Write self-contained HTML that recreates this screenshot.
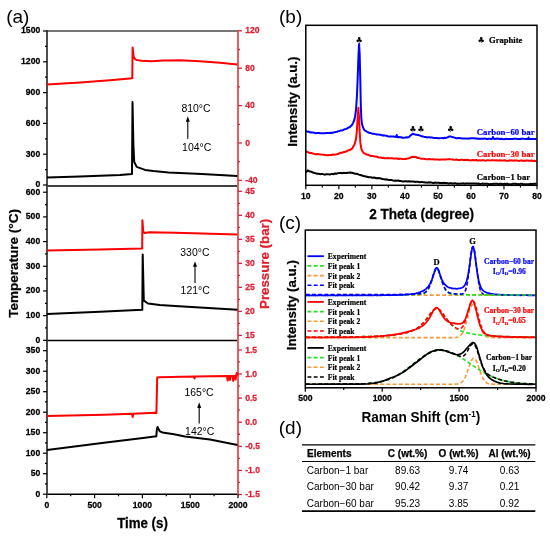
<!DOCTYPE html>
<html><head><meta charset="utf-8"><title>Figure</title>
<style>html,body{margin:0;padding:0;background:#fff;}body{width:550px;height:538px;overflow:hidden;}svg{display:block;}</style>
</head><body>
<svg width="550" height="538" viewBox="0 0 550 538">
<rect width="550" height="538" fill="#fff"/>
<g id="pa">
<line x1="47" y1="31" x2="238" y2="31" stroke="#474747" stroke-width="1.7" />
<line x1="47" y1="186" x2="238" y2="186" stroke="#000" stroke-width="1.4" />
<line x1="47" y1="340.5" x2="238" y2="340.5" stroke="#000" stroke-width="1.4" />
<line x1="47" y1="494.3" x2="238" y2="494.3" stroke="#000" stroke-width="1.5" />
<line x1="47" y1="30.2" x2="47" y2="495" stroke="#3a3a3a" stroke-width="1.8" />
<line x1="238" y1="30.2" x2="238" y2="495.2" stroke="#e65558" stroke-width="1.9" />
<line x1="43" y1="185" x2="47" y2="185" stroke="#000" stroke-width="1.2" />
<text transform="translate(40.2,187.45) scale(1.0,1.06)" font-family="'Liberation Sans', Arial, sans-serif" font-size="8.6" font-weight="bold" fill="#000" text-anchor="end"  stroke="#000" stroke-width="0.25">0</text>
<line x1="45" y1="169.6" x2="47" y2="169.6" stroke="#000" stroke-width="1.2" />
<line x1="43" y1="154.2" x2="47" y2="154.2" stroke="#000" stroke-width="1.2" />
<text transform="translate(40.2,156.65) scale(1.0,1.06)" font-family="'Liberation Sans', Arial, sans-serif" font-size="8.6" font-weight="bold" fill="#000" text-anchor="end"  stroke="#000" stroke-width="0.25">300</text>
<line x1="45" y1="138.8" x2="47" y2="138.8" stroke="#000" stroke-width="1.2" />
<line x1="43" y1="123.4" x2="47" y2="123.4" stroke="#000" stroke-width="1.2" />
<text transform="translate(40.2,125.85) scale(1.0,1.06)" font-family="'Liberation Sans', Arial, sans-serif" font-size="8.6" font-weight="bold" fill="#000" text-anchor="end"  stroke="#000" stroke-width="0.25">600</text>
<line x1="45" y1="108" x2="47" y2="108" stroke="#000" stroke-width="1.2" />
<line x1="43" y1="92.6" x2="47" y2="92.6" stroke="#000" stroke-width="1.2" />
<text transform="translate(40.2,95.05) scale(1.0,1.06)" font-family="'Liberation Sans', Arial, sans-serif" font-size="8.6" font-weight="bold" fill="#000" text-anchor="end"  stroke="#000" stroke-width="0.25">900</text>
<line x1="45" y1="77.2" x2="47" y2="77.2" stroke="#000" stroke-width="1.2" />
<line x1="43" y1="61.8" x2="47" y2="61.8" stroke="#000" stroke-width="1.2" />
<text transform="translate(40.2,64.25) scale(1.0,1.06)" font-family="'Liberation Sans', Arial, sans-serif" font-size="8.6" font-weight="bold" fill="#000" text-anchor="end"  stroke="#000" stroke-width="0.25">1200</text>
<line x1="45" y1="46.4" x2="47" y2="46.4" stroke="#000" stroke-width="1.2" />
<line x1="43" y1="31" x2="47" y2="31" stroke="#000" stroke-width="1.2" />
<text transform="translate(40.2,33.45) scale(1.0,1.06)" font-family="'Liberation Sans', Arial, sans-serif" font-size="8.6" font-weight="bold" fill="#000" text-anchor="end"  stroke="#000" stroke-width="0.25">1500</text>
<line x1="43" y1="340.3" x2="47" y2="340.3" stroke="#000" stroke-width="1.2" />
<text transform="translate(40.2,342.75) scale(1.0,1.06)" font-family="'Liberation Sans', Arial, sans-serif" font-size="8.6" font-weight="bold" fill="#000" text-anchor="end"  stroke="#000" stroke-width="0.25">0</text>
<line x1="45" y1="327.96" x2="47" y2="327.96" stroke="#000" stroke-width="1.2" />
<line x1="43" y1="315.62" x2="47" y2="315.62" stroke="#000" stroke-width="1.2" />
<text transform="translate(40.2,318.07) scale(1.0,1.06)" font-family="'Liberation Sans', Arial, sans-serif" font-size="8.6" font-weight="bold" fill="#000" text-anchor="end"  stroke="#000" stroke-width="0.25">100</text>
<line x1="45" y1="303.28" x2="47" y2="303.28" stroke="#000" stroke-width="1.2" />
<line x1="43" y1="290.94" x2="47" y2="290.94" stroke="#000" stroke-width="1.2" />
<text transform="translate(40.2,293.39) scale(1.0,1.06)" font-family="'Liberation Sans', Arial, sans-serif" font-size="8.6" font-weight="bold" fill="#000" text-anchor="end"  stroke="#000" stroke-width="0.25">200</text>
<line x1="45" y1="278.6" x2="47" y2="278.6" stroke="#000" stroke-width="1.2" />
<line x1="43" y1="266.26" x2="47" y2="266.26" stroke="#000" stroke-width="1.2" />
<text transform="translate(40.2,268.71) scale(1.0,1.06)" font-family="'Liberation Sans', Arial, sans-serif" font-size="8.6" font-weight="bold" fill="#000" text-anchor="end"  stroke="#000" stroke-width="0.25">300</text>
<line x1="45" y1="253.92" x2="47" y2="253.92" stroke="#000" stroke-width="1.2" />
<line x1="43" y1="241.58" x2="47" y2="241.58" stroke="#000" stroke-width="1.2" />
<text transform="translate(40.2,244.03) scale(1.0,1.06)" font-family="'Liberation Sans', Arial, sans-serif" font-size="8.6" font-weight="bold" fill="#000" text-anchor="end"  stroke="#000" stroke-width="0.25">400</text>
<line x1="45" y1="229.24" x2="47" y2="229.24" stroke="#000" stroke-width="1.2" />
<line x1="43" y1="216.9" x2="47" y2="216.9" stroke="#000" stroke-width="1.2" />
<text transform="translate(40.2,219.35) scale(1.0,1.06)" font-family="'Liberation Sans', Arial, sans-serif" font-size="8.6" font-weight="bold" fill="#000" text-anchor="end"  stroke="#000" stroke-width="0.25">500</text>
<line x1="45" y1="204.56" x2="47" y2="204.56" stroke="#000" stroke-width="1.2" />
<line x1="43" y1="192.22" x2="47" y2="192.22" stroke="#000" stroke-width="1.2" />
<text transform="translate(40.2,194.67) scale(1.0,1.06)" font-family="'Liberation Sans', Arial, sans-serif" font-size="8.6" font-weight="bold" fill="#000" text-anchor="end"  stroke="#000" stroke-width="0.25">600</text>
<line x1="43" y1="494.2" x2="47" y2="494.2" stroke="#000" stroke-width="1.2" />
<text transform="translate(40.2,496.65) scale(1.0,1.06)" font-family="'Liberation Sans', Arial, sans-serif" font-size="8.6" font-weight="bold" fill="#000" text-anchor="end"  stroke="#000" stroke-width="0.25">0</text>
<line x1="45" y1="483.95" x2="47" y2="483.95" stroke="#000" stroke-width="1.2" />
<line x1="43" y1="473.7" x2="47" y2="473.7" stroke="#000" stroke-width="1.2" />
<text transform="translate(40.2,476.15) scale(1.0,1.06)" font-family="'Liberation Sans', Arial, sans-serif" font-size="8.6" font-weight="bold" fill="#000" text-anchor="end"  stroke="#000" stroke-width="0.25">50</text>
<line x1="45" y1="463.45" x2="47" y2="463.45" stroke="#000" stroke-width="1.2" />
<line x1="43" y1="453.2" x2="47" y2="453.2" stroke="#000" stroke-width="1.2" />
<text transform="translate(40.2,455.65) scale(1.0,1.06)" font-family="'Liberation Sans', Arial, sans-serif" font-size="8.6" font-weight="bold" fill="#000" text-anchor="end"  stroke="#000" stroke-width="0.25">100</text>
<line x1="45" y1="442.95" x2="47" y2="442.95" stroke="#000" stroke-width="1.2" />
<line x1="43" y1="432.7" x2="47" y2="432.7" stroke="#000" stroke-width="1.2" />
<text transform="translate(40.2,435.15) scale(1.0,1.06)" font-family="'Liberation Sans', Arial, sans-serif" font-size="8.6" font-weight="bold" fill="#000" text-anchor="end"  stroke="#000" stroke-width="0.25">150</text>
<line x1="45" y1="422.45" x2="47" y2="422.45" stroke="#000" stroke-width="1.2" />
<line x1="43" y1="412.2" x2="47" y2="412.2" stroke="#000" stroke-width="1.2" />
<text transform="translate(40.2,414.65) scale(1.0,1.06)" font-family="'Liberation Sans', Arial, sans-serif" font-size="8.6" font-weight="bold" fill="#000" text-anchor="end"  stroke="#000" stroke-width="0.25">200</text>
<line x1="45" y1="401.95" x2="47" y2="401.95" stroke="#000" stroke-width="1.2" />
<line x1="43" y1="391.7" x2="47" y2="391.7" stroke="#000" stroke-width="1.2" />
<text transform="translate(40.2,394.15) scale(1.0,1.06)" font-family="'Liberation Sans', Arial, sans-serif" font-size="8.6" font-weight="bold" fill="#000" text-anchor="end"  stroke="#000" stroke-width="0.25">250</text>
<line x1="45" y1="381.45" x2="47" y2="381.45" stroke="#000" stroke-width="1.2" />
<line x1="43" y1="371.2" x2="47" y2="371.2" stroke="#000" stroke-width="1.2" />
<text transform="translate(40.2,373.65) scale(1.0,1.06)" font-family="'Liberation Sans', Arial, sans-serif" font-size="8.6" font-weight="bold" fill="#000" text-anchor="end"  stroke="#000" stroke-width="0.25">300</text>
<line x1="45" y1="360.95" x2="47" y2="360.95" stroke="#000" stroke-width="1.2" />
<line x1="43" y1="350.7" x2="47" y2="350.7" stroke="#000" stroke-width="1.2" />
<text transform="translate(40.2,353.15) scale(1.0,1.06)" font-family="'Liberation Sans', Arial, sans-serif" font-size="8.6" font-weight="bold" fill="#000" text-anchor="end"  stroke="#000" stroke-width="0.25">350</text>
<line x1="238" y1="180.4" x2="242" y2="180.4" stroke="#e0203a" stroke-width="1.3" />
<text transform="translate(245.2,183.05) scale(1.0,1.06)" font-family="'Liberation Sans', Arial, sans-serif" font-size="8.6" font-weight="bold" fill="#e01e32" text-anchor="start"  stroke="#e01e32" stroke-width="0.25">-40</text>
<line x1="238" y1="161.7" x2="240" y2="161.7" stroke="#e0203a" stroke-width="1.3" />
<line x1="238" y1="143" x2="242" y2="143" stroke="#e0203a" stroke-width="1.3" />
<text transform="translate(245.2,145.65) scale(1.0,1.06)" font-family="'Liberation Sans', Arial, sans-serif" font-size="8.6" font-weight="bold" fill="#e01e32" text-anchor="start"  stroke="#e01e32" stroke-width="0.25">0</text>
<line x1="238" y1="124.3" x2="240" y2="124.3" stroke="#e0203a" stroke-width="1.3" />
<line x1="238" y1="105.6" x2="242" y2="105.6" stroke="#e0203a" stroke-width="1.3" />
<text transform="translate(245.2,108.25) scale(1.0,1.06)" font-family="'Liberation Sans', Arial, sans-serif" font-size="8.6" font-weight="bold" fill="#e01e32" text-anchor="start"  stroke="#e01e32" stroke-width="0.25">40</text>
<line x1="238" y1="86.9" x2="240" y2="86.9" stroke="#e0203a" stroke-width="1.3" />
<line x1="238" y1="68.2" x2="242" y2="68.2" stroke="#e0203a" stroke-width="1.3" />
<text transform="translate(245.2,70.85) scale(1.0,1.06)" font-family="'Liberation Sans', Arial, sans-serif" font-size="8.6" font-weight="bold" fill="#e01e32" text-anchor="start"  stroke="#e01e32" stroke-width="0.25">80</text>
<line x1="238" y1="49.5" x2="240" y2="49.5" stroke="#e0203a" stroke-width="1.3" />
<line x1="238" y1="30.8" x2="242" y2="30.8" stroke="#e0203a" stroke-width="1.3" />
<text transform="translate(245.2,33.45) scale(1.0,1.06)" font-family="'Liberation Sans', Arial, sans-serif" font-size="8.6" font-weight="bold" fill="#e01e32" text-anchor="start"  stroke="#e01e32" stroke-width="0.25">120</text>
<line x1="238" y1="335.4" x2="242" y2="335.4" stroke="#e0203a" stroke-width="1.3" />
<text transform="translate(245.2,338.05) scale(1.0,1.06)" font-family="'Liberation Sans', Arial, sans-serif" font-size="8.6" font-weight="bold" fill="#e01e32" text-anchor="start"  stroke="#e01e32" stroke-width="0.25">15</text>
<line x1="238" y1="323.39" x2="240" y2="323.39" stroke="#e0203a" stroke-width="1.3" />
<line x1="238" y1="311.38" x2="242" y2="311.38" stroke="#e0203a" stroke-width="1.3" />
<text transform="translate(245.2,314.03) scale(1.0,1.06)" font-family="'Liberation Sans', Arial, sans-serif" font-size="8.6" font-weight="bold" fill="#e01e32" text-anchor="start"  stroke="#e01e32" stroke-width="0.25">20</text>
<line x1="238" y1="299.38" x2="240" y2="299.38" stroke="#e0203a" stroke-width="1.3" />
<line x1="238" y1="287.37" x2="242" y2="287.37" stroke="#e0203a" stroke-width="1.3" />
<text transform="translate(245.2,290.02) scale(1.0,1.06)" font-family="'Liberation Sans', Arial, sans-serif" font-size="8.6" font-weight="bold" fill="#e01e32" text-anchor="start"  stroke="#e01e32" stroke-width="0.25">25</text>
<line x1="238" y1="275.36" x2="240" y2="275.36" stroke="#e0203a" stroke-width="1.3" />
<line x1="238" y1="263.35" x2="242" y2="263.35" stroke="#e0203a" stroke-width="1.3" />
<text transform="translate(245.2,266) scale(1.0,1.06)" font-family="'Liberation Sans', Arial, sans-serif" font-size="8.6" font-weight="bold" fill="#e01e32" text-anchor="start"  stroke="#e01e32" stroke-width="0.25">30</text>
<line x1="238" y1="251.35" x2="240" y2="251.35" stroke="#e0203a" stroke-width="1.3" />
<line x1="238" y1="239.34" x2="242" y2="239.34" stroke="#e0203a" stroke-width="1.3" />
<text transform="translate(245.2,241.99) scale(1.0,1.06)" font-family="'Liberation Sans', Arial, sans-serif" font-size="8.6" font-weight="bold" fill="#e01e32" text-anchor="start"  stroke="#e01e32" stroke-width="0.25">35</text>
<line x1="238" y1="227.33" x2="240" y2="227.33" stroke="#e0203a" stroke-width="1.3" />
<line x1="238" y1="215.32" x2="242" y2="215.32" stroke="#e0203a" stroke-width="1.3" />
<text transform="translate(245.2,217.97) scale(1.0,1.06)" font-family="'Liberation Sans', Arial, sans-serif" font-size="8.6" font-weight="bold" fill="#e01e32" text-anchor="start"  stroke="#e01e32" stroke-width="0.25">40</text>
<line x1="238" y1="203.32" x2="240" y2="203.32" stroke="#e0203a" stroke-width="1.3" />
<line x1="238" y1="191.31" x2="242" y2="191.31" stroke="#e0203a" stroke-width="1.3" />
<text transform="translate(245.2,193.96) scale(1.0,1.06)" font-family="'Liberation Sans', Arial, sans-serif" font-size="8.6" font-weight="bold" fill="#e01e32" text-anchor="start"  stroke="#e01e32" stroke-width="0.25">45</text>
<line x1="238" y1="494.5" x2="242" y2="494.5" stroke="#e0203a" stroke-width="1.3" />
<text transform="translate(245.2,497.15) scale(1.0,1.06)" font-family="'Liberation Sans', Arial, sans-serif" font-size="8.6" font-weight="bold" fill="#e01e32" text-anchor="start"  stroke="#e01e32" stroke-width="0.25">-1.5</text>
<line x1="238" y1="482.45" x2="240" y2="482.45" stroke="#e0203a" stroke-width="1.3" />
<line x1="238" y1="470.4" x2="242" y2="470.4" stroke="#e0203a" stroke-width="1.3" />
<text transform="translate(245.2,473.05) scale(1.0,1.06)" font-family="'Liberation Sans', Arial, sans-serif" font-size="8.6" font-weight="bold" fill="#e01e32" text-anchor="start"  stroke="#e01e32" stroke-width="0.25">-1.0</text>
<line x1="238" y1="458.35" x2="240" y2="458.35" stroke="#e0203a" stroke-width="1.3" />
<line x1="238" y1="446.3" x2="242" y2="446.3" stroke="#e0203a" stroke-width="1.3" />
<text transform="translate(245.2,448.95) scale(1.0,1.06)" font-family="'Liberation Sans', Arial, sans-serif" font-size="8.6" font-weight="bold" fill="#e01e32" text-anchor="start"  stroke="#e01e32" stroke-width="0.25">-0.5</text>
<line x1="238" y1="434.25" x2="240" y2="434.25" stroke="#e0203a" stroke-width="1.3" />
<line x1="238" y1="422.2" x2="242" y2="422.2" stroke="#e0203a" stroke-width="1.3" />
<text transform="translate(245.2,424.85) scale(1.0,1.06)" font-family="'Liberation Sans', Arial, sans-serif" font-size="8.6" font-weight="bold" fill="#e01e32" text-anchor="start"  stroke="#e01e32" stroke-width="0.25">0.0</text>
<line x1="238" y1="410.15" x2="240" y2="410.15" stroke="#e0203a" stroke-width="1.3" />
<line x1="238" y1="398.1" x2="242" y2="398.1" stroke="#e0203a" stroke-width="1.3" />
<text transform="translate(245.2,400.75) scale(1.0,1.06)" font-family="'Liberation Sans', Arial, sans-serif" font-size="8.6" font-weight="bold" fill="#e01e32" text-anchor="start"  stroke="#e01e32" stroke-width="0.25">0.5</text>
<line x1="238" y1="386.05" x2="240" y2="386.05" stroke="#e0203a" stroke-width="1.3" />
<line x1="238" y1="374" x2="242" y2="374" stroke="#e0203a" stroke-width="1.3" />
<text transform="translate(245.2,376.65) scale(1.0,1.06)" font-family="'Liberation Sans', Arial, sans-serif" font-size="8.6" font-weight="bold" fill="#e01e32" text-anchor="start"  stroke="#e01e32" stroke-width="0.25">1.0</text>
<line x1="238" y1="361.95" x2="240" y2="361.95" stroke="#e0203a" stroke-width="1.3" />
<line x1="238" y1="349.9" x2="242" y2="349.9" stroke="#e0203a" stroke-width="1.3" />
<text transform="translate(245.2,352.55) scale(1.0,1.06)" font-family="'Liberation Sans', Arial, sans-serif" font-size="8.6" font-weight="bold" fill="#e01e32" text-anchor="start"  stroke="#e01e32" stroke-width="0.25">1.5</text>
<line x1="46.8" y1="494.3" x2="46.8" y2="498.3" stroke="#000" stroke-width="1.2" />
<text transform="translate(46.8,508) scale(1.0,1.06)" font-family="'Liberation Sans', Arial, sans-serif" font-size="8.6" font-weight="bold" fill="#000" text-anchor="middle"  stroke="#000" stroke-width="0.25">0</text>
<line x1="70.7" y1="494.3" x2="70.7" y2="496.3" stroke="#000" stroke-width="1.2" />
<line x1="94.6" y1="494.3" x2="94.6" y2="498.3" stroke="#000" stroke-width="1.2" />
<text transform="translate(94.6,508) scale(1.0,1.06)" font-family="'Liberation Sans', Arial, sans-serif" font-size="8.6" font-weight="bold" fill="#000" text-anchor="middle"  stroke="#000" stroke-width="0.25">500</text>
<line x1="118.5" y1="494.3" x2="118.5" y2="496.3" stroke="#000" stroke-width="1.2" />
<line x1="142.4" y1="494.3" x2="142.4" y2="498.3" stroke="#000" stroke-width="1.2" />
<text transform="translate(142.4,508) scale(1.0,1.06)" font-family="'Liberation Sans', Arial, sans-serif" font-size="8.6" font-weight="bold" fill="#000" text-anchor="middle"  stroke="#000" stroke-width="0.25">1000</text>
<line x1="166.3" y1="494.3" x2="166.3" y2="496.3" stroke="#000" stroke-width="1.2" />
<line x1="190.2" y1="494.3" x2="190.2" y2="498.3" stroke="#000" stroke-width="1.2" />
<text transform="translate(190.2,508) scale(1.0,1.06)" font-family="'Liberation Sans', Arial, sans-serif" font-size="8.6" font-weight="bold" fill="#000" text-anchor="middle"  stroke="#000" stroke-width="0.25">1500</text>
<line x1="214.1" y1="494.3" x2="214.1" y2="496.3" stroke="#000" stroke-width="1.2" />
<line x1="238" y1="494.3" x2="238" y2="498.3" stroke="#000" stroke-width="1.2" />
<text transform="translate(238,508) scale(1.0,1.06)" font-family="'Liberation Sans', Arial, sans-serif" font-size="8.6" font-weight="bold" fill="#000" text-anchor="middle"  stroke="#000" stroke-width="0.25">2000</text>
<path d="M47,84.5 L80,82.4 L110,80.2 L132.3,78.3 L132.6,47.4 L133.6,56.4 L135,59 L136.4,60 L141.8,60.7 L151.6,61.3 L163.6,60.4 L180,60.2 L200,61.2 L220,62.8 L237.5,64.4" fill="none" stroke="#ff0000" stroke-width="2" stroke-linejoin="round" />
<path d="M47,177.5 L80,176.4 L120,174.9 L132,173.9 L132.5,102 L133.4,145 L134.2,161.9 L136.7,166.9 L145,169.9 L153.4,171.1 L168.5,172.4 L201.8,174 L237.4,176" fill="none" stroke="#000" stroke-width="2" stroke-linejoin="round" />
<path d="M47,250.5 L100,249.5 L142.2,248.6 L142.4,220.2 L143.3,232.2 L145,233 L149,232.3 L175,232.8 L237.5,234.5" fill="none" stroke="#ff0000" stroke-width="2" stroke-linejoin="round" />
<path d="M47,314 L100,311.8 L142.3,309.8 L142.7,254.5 L143.8,300.7 L148,303.5 L159.8,304.9 L175,305.9 L237.5,309.7" fill="none" stroke="#000" stroke-width="2" stroke-linejoin="round" />
<path d="M47,416.1 L104,414.7 L132,413.8 L132.7,417 L133.4,413.8 L155,412.7 L156.4,413 L157.2,377.5 L160,377.3 L194,376.6 L194.5,378.6 L195,376.6 L227,376 L227.7,380.5 L228.4,376 L229.5,376 L230,380 L230.6,376 L232.6,376 L233.2,381 L233.8,376 L235,376 L235.5,379.5 L236,376 L236.8,373 L237.5,375.7" fill="none" stroke="#ff0000" stroke-width="2" stroke-linejoin="round" />
<path d="M47,450 L104,442.7 L145,437.7 L156.3,436.3 L156.8,430 L157.5,427 L159.9,431.4 L162.5,432.5 L174,434.3 L185,436.5 L210,439.5 L237.5,445" fill="none" stroke="#000" stroke-width="2" stroke-linejoin="round" />
<text x="181.4" y="111.7" font-family="'Liberation Sans', Arial, sans-serif" font-size="10.45" font-weight="normal" fill="#000" text-anchor="start" >810°C</text>
<line x1="187.8" y1="138.7" x2="187.8" y2="120.2" stroke="#000" stroke-width="1.1" />
<path d="M187.8,116.2 L185.8,121.8 L189.8,121.8 Z" fill="#000"/>
<text x="182.1" y="150.8" font-family="'Liberation Sans', Arial, sans-serif" font-size="10.45" font-weight="normal" fill="#000" text-anchor="start" >104°C</text>
<text x="180.3" y="255.6" font-family="'Liberation Sans', Arial, sans-serif" font-size="10.45" font-weight="normal" fill="#000" text-anchor="start" >330°C</text>
<line x1="195" y1="282.9" x2="195" y2="265.2" stroke="#000" stroke-width="1.1" />
<path d="M195,261.2 L193,266.8 L197,266.8 Z" fill="#000"/>
<text x="180.6" y="294" font-family="'Liberation Sans', Arial, sans-serif" font-size="10.45" font-weight="normal" fill="#000" text-anchor="start" >121°C</text>
<text x="184.5" y="395.8" font-family="'Liberation Sans', Arial, sans-serif" font-size="10.45" font-weight="normal" fill="#000" text-anchor="start" >165°C</text>
<line x1="199.2" y1="423.5" x2="199.2" y2="406.3" stroke="#000" stroke-width="1.1" />
<path d="M199.2,402.3 L197.2,407.9 L201.2,407.9 Z" fill="#000"/>
<text x="185.1" y="434.6" font-family="'Liberation Sans', Arial, sans-serif" font-size="10.45" font-weight="normal" fill="#000" text-anchor="start" >142°C</text>
<text transform="translate(18.3,263.4) rotate(-90) scale(1.018,0.97)" font-family="'Liberation Sans', Arial, sans-serif" font-size="13.3" font-weight="bold" fill="#000" text-anchor="middle"  stroke="#000" stroke-width="0.25">Temperature (°C)</text>
<text transform="translate(268.9,263.9) rotate(-90) scale(1.0,0.99)" font-family="'Liberation Sans', Arial, sans-serif" font-size="13.3" font-weight="bold" fill="#e3202c" text-anchor="middle"  stroke="#e3202c" stroke-width="0.25">Pressure (bar)</text>
<text transform="translate(142.5,527.9) scale(1.0,1.06)" font-family="'Liberation Sans', Arial, sans-serif" font-size="13.3" font-weight="bold" fill="#000" text-anchor="middle"  stroke="#000" stroke-width="0.25">Time (s)</text>
<text x="6.2" y="22.9" font-family="'Liberation Sans', Arial, sans-serif" font-size="19" font-weight="normal" fill="#000" text-anchor="start" >(a)</text>
</g>
<g id="pb">
<path d="M306,172.39 L307.7,170.29 L310,171.59 L311.48,171.77 L312.95,172.57 L314.42,172.99 L315.9,173.33 L317.27,173.8 L318.63,173.72 L320,174.16 L321.25,174.02 L322.5,174.1 L323.75,174.38 L325,174.7 L326.22,174.19 L327.43,174.17 L328.65,174.33 L329.87,174.44 L331.08,174.13 L332.3,173.94 L333.58,174.15 L334.87,173.46 L336.15,173.82 L337.43,173.34 L338.72,173.12 L340,172.97 L341.23,173.01 L342.46,173.25 L343.69,172.79 L344.91,172.96 L346.14,172.93 L347.37,172.69 L348.6,172.73 L350.07,172.6 L351.53,172.77 L353,173.02 L354.57,173.64 L356.13,173.82 L357.7,174.09 L358.92,174.62 L360.13,174.91 L361.35,175.18 L362.57,175.84 L363.78,176.15 L365,176.25 L366.2,176.64 L367.4,176.82 L368.6,177.23 L369.8,177.34 L371,177.27 L372.34,177.85 L373.68,177.49 L375.02,177.83 L376.36,178.19 L377.7,177.99 L378.96,178.37 L380.22,178.28 L381.48,178.84 L382.74,179.08 L384,179.14 L385.3,179.51 L386.6,179.35 L387.9,179.76 L389.2,179.88 L390.5,180.05 L391.8,180.11 L393.1,180.48 L394.4,180.69 L395.7,180.54 L397,180.8 L398.33,180.54 L399.67,181.02 L401,181.09 L402.33,181.4 L403.67,181.39 L405,181.17 L406.25,181.29 L407.5,181.53 L408.75,181.2 L410,181.53 L411.25,181.41 L412.5,181.45 L413.75,181.47 L415,181.96 L416.3,181.64 L417.6,181.77 L418.9,181.92 L420.2,182.27 L421.5,181.86 L422.8,182.14 L424.1,182.27 L425.4,182.53 L426.62,182.55 L427.83,182.64 L429.05,182.34 L430.27,182.48 L431.48,182.51 L432.7,182.88 L433.92,182.98 L435.13,182.56 L436.35,182.63 L437.57,182.72 L438.78,182.78 L440,182.99 L441.24,183.09 L442.48,182.92 L443.73,182.8 L444.97,183.08 L446.21,183.08 L447.45,183.23 L448.69,183.49 L449.94,183.37 L451.18,183.29 L452.42,183.39 L453.66,183.45 L454.91,183.11 L456.15,183.65 L457.39,183.61 L458.63,183.7 L459.87,183.68 L461.12,183.47 L462.36,183.51 L463.6,183.36 L464.86,183.69 L466.11,183.37 L467.37,183.38 L468.63,183.48 L469.89,183.47 L471.14,183.59 L472.4,183.43 L473.66,183.41 L474.91,183.52 L476.17,183.5 L477.43,183.68 L478.69,183.49 L479.94,184.01 L481.2,183.87 L482.46,183.6 L483.71,183.68 L484.97,183.75 L486.23,183.78 L487.49,183.65 L488.74,184.1 L490,184.2 L491.22,183.88 L492.45,183.9 L493.67,183.66 L494.89,183.67 L496.12,183.82 L497.34,183.77 L498.57,184.12 L499.79,183.72 L501.01,183.64 L502.24,184.2 L503.46,183.95 L504.68,183.72 L505.91,183.96 L507.13,183.65 L508.36,183.96 L509.58,184.23 L510.8,184.16 L512.03,184.07 L513.25,183.81 L514.47,183.87 L515.7,183.76 L516.92,184.12 L518.14,183.98 L519.37,184.13 L520.59,183.86 L521.82,183.8 L523.04,184.16 L524.26,184.26 L525.49,184.19 L526.71,184.16 L527.93,184.17 L529.16,184.13 L530.38,183.82 L531.61,184 L532.83,183.91 L534.05,183.71 L535.28,183.71 L536.5,184" fill="none" stroke="#000" stroke-width="2" stroke-linejoin="round" />
<path d="M306,151.57 L307.33,151.92 L308.67,152.55 L310,153.07 L311.43,153.04 L312.87,153.6 L314.3,153.89 L315.87,154.14 L317.43,154.05 L319,154.23 L320.53,154.44 L322.07,154.62 L323.6,154.82 L325.07,155.07 L326.53,155.24 L328,155.2 L329.23,154.94 L330.45,154.99 L331.67,155.03 L332.9,154.55 L334.27,154.63 L335.63,154.51 L337,154.17 L338.3,153.8 L339.6,153.29 L340.9,152.76 L342.2,152.77 L343.47,152.07 L344.73,151.91 L346,151.58 L347.2,150.77 L348.4,150.31 L349.6,150.17 L352,148.63 L353.3,146.4 L354.3,145 L355,142.9 L356,139 L356.8,132 L357.5,120 L358.4,107.8 L359.1,118 L359.7,132 L360.4,142.9 L361.2,148 L362,150.58 L363.2,152.49 L365.5,154.04 L367,154.68 L368.3,154.69 L369.6,155.5 L370.9,155.99 L372.12,156.05 L373.34,156.13 L374.56,156.51 L375.78,156.52 L377,156.71 L378.3,157.45 L379.6,157.42 L380.9,157.52 L382.2,157.93 L383.5,157.79 L384.8,158.22 L386.24,158.3 L387.68,158.03 L389.12,158.15 L390.56,158.28 L392,158.34 L393.33,158.6 L394.67,158.46 L396,158.6 L397.33,158.48 L398.67,159 L400,158.71 L401.25,158.8 L402.5,158.9 L403.75,159.12 L405,158.85 L406.33,158.92 L407.67,158.43 L409,158.22 L410.23,157.78 L411.47,157.04 L412.7,156.86 L414.35,156.96 L416,157.1 L417.33,157.91 L418.67,157.87 L420,158.38 L421.25,158.71 L422.5,158.78 L423.75,158.82 L425,159.11 L426.33,159.18 L427.67,159.37 L429,159.01 L430.33,159.34 L431.67,159.2 L433,159.27 L434.33,159.58 L435.67,159.44 L437,159.49 L438.33,159.62 L439.67,159.73 L441,159.47 L442.2,159.55 L443.4,159.46 L444.6,159.45 L445.8,159.54 L447,159.37 L448.3,159.32 L449.6,159.19 L450.9,159.36 L452.27,159.39 L453.63,159.66 L455,159.87 L456.23,159.51 L457.46,159.75 L458.69,160.04 L459.91,160.03 L461.14,159.67 L462.37,159.72 L463.6,159.97 L464.86,159.77 L466.12,159.89 L467.38,159.81 L468.65,160.19 L469.91,160.29 L471.17,160.38 L472.43,159.95 L473.69,160.31 L474.95,160.3 L476.22,160.02 L477.48,160.48 L478.74,160.56 L480,160.13 L481.25,160.58 L482.5,160.26 L483.75,160.33 L485,160.64 L486.25,160.56 L487.5,160.17 L488.75,160.35 L490,160.41 L491.25,160.32 L492.5,160.24 L493.75,160.33 L495,160.58 L496.25,160.17 L497.5,160.51 L498.75,160.45 L500,160.21 L501.22,160.41 L502.43,160.59 L503.65,160.54 L504.87,160.28 L506.08,160.84 L507.3,160.73 L508.52,160.85 L509.73,160.34 L510.95,160.45 L512.17,160.32 L513.38,160.78 L514.6,160.48 L515.82,160.41 L517.03,160.59 L518.25,160.9 L519.47,160.85 L520.68,160.53 L521.9,160.47 L523.12,160.94 L524.33,160.74 L525.55,160.83 L526.77,160.47 L527.98,160.46 L529.2,160.85 L530.42,160.71 L531.63,160.5 L532.85,161.03 L534.07,160.86 L535.28,160.97 L536.5,160.8" fill="none" stroke="#ff0000" stroke-width="2" stroke-linejoin="round" />
<path d="M306,130.95 L307.33,131.75 L308.67,131.61 L310,132.42 L311.43,132.37 L312.87,132.5 L314.3,132.83 L315.87,133.19 L317.43,132.93 L319,132.98 L320.53,133.28 L322.07,133.18 L323.6,133.17 L325.07,133.13 L326.53,133 L328,133.02 L329.23,132.96 L330.45,132.83 L331.67,132.98 L332.9,132.57 L334.27,132.4 L335.63,131.91 L337,131.71 L338.3,131.14 L339.6,130.9 L340.9,130.38 L342.2,130.44 L343.47,129.86 L344.73,129.18 L346,128.88 L347.2,128.56 L348.4,127.46 L349.6,127.29 L352,124.96 L353.3,122.4 L354.3,120 L355,117 L356,110 L357,95 L357.8,75 L358.5,55 L359.1,44 L359.7,55 L360.3,80 L360.8,105 L361.3,118 L362,124 L363,127.5 L364.5,130.4 L365.75,130.94 L367,131.8 L368.3,132.38 L369.6,133.02 L370.9,133.11 L372.12,133.66 L373.34,133.84 L374.56,134.06 L375.78,134.18 L377,134.41 L378.3,134.43 L379.6,134.68 L380.9,134.84 L382.2,135.44 L383.5,135.35 L384.8,135.5 L386.24,135.63 L387.68,136.26 L389.12,136.46 L390.56,136.52 L392,136.47 L393.33,136.58 L394.67,136.74 L396,137 L396.7,135 L397.4,137.18 L398.67,137.06 L399.93,137.3 L401.2,137.26 L402.47,137.74 L403.73,137.82 L405,137.63 L406.33,137.25 L407.67,137.48 L409,136.89 L411,135.11 L412.7,133.7 L415,134.43 L416.5,134.73 L418,135 L420.4,135.62 L421.7,136.3 L423,136.5 L424.33,136.89 L425.67,137.02 L427,137.44 L428.2,137.29 L429.4,137.33 L430.6,137.56 L431.8,137.58 L433,137.85 L434.33,137.88 L435.67,138.08 L437,138.09 L438.33,138.2 L439.67,138.36 L441,138.13 L442.25,138 L443.5,138.29 L444.75,137.69 L446,137.93 L447.5,137.39 L449,136.53 L450.9,136.6 L453,137.24 L454.5,137.58 L456,138.14 L457.27,138.24 L458.53,137.88 L459.8,138.16 L461.07,138.2 L462.33,138.45 L463.6,138.48 L464.86,138.53 L466.12,138.41 L467.38,138.63 L468.65,138.53 L469.91,138.57 L471.17,138.32 L472.43,138.23 L473.69,138.33 L474.95,138.49 L476.22,138.37 L477.48,138.84 L478.74,138.7 L480,138.78 L481.23,138.79 L482.46,138.83 L483.69,138.72 L484.92,138.44 L486.15,138.93 L487.38,138.91 L488.61,138.77 L489.84,138.8 L491.07,138.89 L492.3,138.8 L492.9,137 L493.5,138.54 L494.8,138.96 L496.1,138.69 L497.4,138.6 L498.7,138.74 L500,139.04 L501.25,138.73 L502.5,139.06 L503.75,139.2 L505,138.92 L506.25,138.86 L507.5,138.92 L508.75,139.05 L510,139.11 L511.25,139.03 L512.5,139.05 L513.75,138.72 L515,138.76 L516.25,138.83 L517.5,139.13 L518.75,138.88 L520,139.04 L521.33,138.71 L522.67,138.74 L524,138.86 L525.33,139.1 L526.67,139.12 L528,139 L528.5,137.5 L529,139.11 L530.25,138.91 L531.5,139.08 L532.75,139.08 L534,139.11 L535.25,138.94 L536.5,139.2" fill="none" stroke="#0000ff" stroke-width="2" stroke-linejoin="round" />
<rect x="305.8" y="25.3" width="231.2" height="160" fill="none" stroke="#000" stroke-width="1.5"/>
<line x1="305.8" y1="185.3" x2="305.8" y2="189.3" stroke="#000" stroke-width="1.2" />
<text transform="translate(305.8,199.2) scale(1.0,1.06)" font-family="'Liberation Sans', Arial, sans-serif" font-size="8.6" font-weight="bold" fill="#000" text-anchor="middle"  stroke="#000" stroke-width="0.25">10</text>
<line x1="322.31" y1="185.3" x2="322.31" y2="187.5" stroke="#000" stroke-width="1.2" />
<line x1="338.83" y1="185.3" x2="338.83" y2="189.3" stroke="#000" stroke-width="1.2" />
<text transform="translate(338.83,199.2) scale(1.0,1.06)" font-family="'Liberation Sans', Arial, sans-serif" font-size="8.6" font-weight="bold" fill="#000" text-anchor="middle"  stroke="#000" stroke-width="0.25">20</text>
<line x1="355.34" y1="185.3" x2="355.34" y2="187.5" stroke="#000" stroke-width="1.2" />
<line x1="371.86" y1="185.3" x2="371.86" y2="189.3" stroke="#000" stroke-width="1.2" />
<text transform="translate(371.86,199.2) scale(1.0,1.06)" font-family="'Liberation Sans', Arial, sans-serif" font-size="8.6" font-weight="bold" fill="#000" text-anchor="middle"  stroke="#000" stroke-width="0.25">30</text>
<line x1="388.37" y1="185.3" x2="388.37" y2="187.5" stroke="#000" stroke-width="1.2" />
<line x1="404.89" y1="185.3" x2="404.89" y2="189.3" stroke="#000" stroke-width="1.2" />
<text transform="translate(404.89,199.2) scale(1.0,1.06)" font-family="'Liberation Sans', Arial, sans-serif" font-size="8.6" font-weight="bold" fill="#000" text-anchor="middle"  stroke="#000" stroke-width="0.25">40</text>
<line x1="421.4" y1="185.3" x2="421.4" y2="187.5" stroke="#000" stroke-width="1.2" />
<line x1="437.91" y1="185.3" x2="437.91" y2="189.3" stroke="#000" stroke-width="1.2" />
<text transform="translate(437.91,199.2) scale(1.0,1.06)" font-family="'Liberation Sans', Arial, sans-serif" font-size="8.6" font-weight="bold" fill="#000" text-anchor="middle"  stroke="#000" stroke-width="0.25">50</text>
<line x1="454.43" y1="185.3" x2="454.43" y2="187.5" stroke="#000" stroke-width="1.2" />
<line x1="470.94" y1="185.3" x2="470.94" y2="189.3" stroke="#000" stroke-width="1.2" />
<text transform="translate(470.94,199.2) scale(1.0,1.06)" font-family="'Liberation Sans', Arial, sans-serif" font-size="8.6" font-weight="bold" fill="#000" text-anchor="middle"  stroke="#000" stroke-width="0.25">60</text>
<line x1="487.46" y1="185.3" x2="487.46" y2="187.5" stroke="#000" stroke-width="1.2" />
<line x1="503.97" y1="185.3" x2="503.97" y2="189.3" stroke="#000" stroke-width="1.2" />
<text transform="translate(503.97,199.2) scale(1.0,1.06)" font-family="'Liberation Sans', Arial, sans-serif" font-size="8.6" font-weight="bold" fill="#000" text-anchor="middle"  stroke="#000" stroke-width="0.25">70</text>
<line x1="520.49" y1="185.3" x2="520.49" y2="187.5" stroke="#000" stroke-width="1.2" />
<line x1="537" y1="185.3" x2="537" y2="189.3" stroke="#000" stroke-width="1.2" />
<text transform="translate(537,199.2) scale(1.0,1.06)" font-family="'Liberation Sans', Arial, sans-serif" font-size="8.6" font-weight="bold" fill="#000" text-anchor="middle"  stroke="#000" stroke-width="0.25">80</text>
<text x="359.2" y="42.6" font-family="'DejaVu Sans', sans-serif" font-size="8.2" font-weight="normal" fill="#000" text-anchor="middle" >&#9827;</text>
<text x="413" y="132" font-family="'DejaVu Sans', sans-serif" font-size="8.2" font-weight="normal" fill="#000" text-anchor="middle" >&#9827;</text>
<text x="420.8" y="132" font-family="'DejaVu Sans', sans-serif" font-size="8.2" font-weight="normal" fill="#000" text-anchor="middle" >&#9827;</text>
<text x="450.6" y="132" font-family="'DejaVu Sans', sans-serif" font-size="8.2" font-weight="normal" fill="#000" text-anchor="middle" >&#9827;</text>
<text x="481.1" y="42.8" font-family="'DejaVu Sans', sans-serif" font-size="8.2" font-weight="normal" fill="#000" text-anchor="middle" >&#9827;</text>
<text x="489" y="43" font-family="'Liberation Serif', 'Times New Roman', serif" font-size="8.6" font-weight="bold" fill="#000" text-anchor="start"  stroke="#000" stroke-width="0.2">Graphite</text>
<text x="476.8" y="134.9" font-family="'Liberation Serif', 'Times New Roman', serif" font-size="8.75" font-weight="bold" fill="#0000ff" text-anchor="start"  stroke="#0000ff" stroke-width="0.2">Carbon&#8722;60 bar</text>
<text x="476.8" y="157.1" font-family="'Liberation Serif', 'Times New Roman', serif" font-size="8.75" font-weight="bold" fill="#ff0000" text-anchor="start"  stroke="#ff0000" stroke-width="0.2">Carbon&#8722;30 bar</text>
<text x="476.8" y="179.8" font-family="'Liberation Serif', 'Times New Roman', serif" font-size="8.75" font-weight="bold" fill="#000" text-anchor="start"  stroke="#000" stroke-width="0.2">Carbon&#8722;1 bar</text>
<text transform="translate(421.6,219.1) scale(1.0,1.06)" font-family="'Liberation Sans', Arial, sans-serif" font-size="13.6" font-weight="bold" fill="#000" text-anchor="middle"  stroke="#000" stroke-width="0.25">2 Theta (degree)</text>
<text transform="translate(296.9,101.6) rotate(-90) scale(1.0,0.95)" font-family="'Liberation Sans', Arial, sans-serif" font-size="13.3" font-weight="bold" fill="#000" text-anchor="middle"  stroke="#000" stroke-width="0.25">Intensity (a.u.)</text>
<text x="279" y="22.9" font-family="'Liberation Sans', Arial, sans-serif" font-size="19" font-weight="normal" fill="#000" text-anchor="start" >(b)</text>
</g>
<g id="pc">
<path d="M305.8,295.08 L306.3,295.08 L306.8,295.08 L307.3,295.08 L307.8,295.08 L308.3,295.08 L308.8,295.08 L309.3,295.08 L309.8,295.08 L310.3,295.08 L310.8,295.08 L311.3,295.08 L311.8,295.08 L312.3,295.08 L312.8,295.08 L313.3,295.08 L313.8,295.08 L314.3,295.08 L314.8,295.08 L315.3,295.08 L315.8,295.08 L316.3,295.08 L316.8,295.08 L317.3,295.08 L317.8,295.08 L318.3,295.08 L318.8,295.08 L319.3,295.08 L319.8,295.08 L320.3,295.08 L320.8,295.08 L321.3,295.08 L321.8,295.08 L322.3,295.08 L322.8,295.08 L323.3,295.08 L323.8,295.08 L324.3,295.08 L324.8,295.08 L325.3,295.08 L325.8,295.08 L326.3,295.08 L326.8,295.08 L327.3,295.08 L327.8,295.08 L328.3,295.08 L328.8,295.08 L329.3,295.08 L329.8,295.08 L330.3,295.08 L330.8,295.08 L331.3,295.08 L331.8,295.08 L332.3,295.08 L332.8,295.08 L333.3,295.07 L333.8,295.07 L334.3,295.07 L334.8,295.07 L335.3,295.07 L335.8,295.07 L336.3,295.07 L336.8,295.07 L337.3,295.07 L337.8,295.07 L338.3,295.07 L338.8,295.07 L339.3,295.07 L339.8,295.07 L340.3,295.07 L340.8,295.07 L341.3,295.07 L341.8,295.07 L342.3,295.07 L342.8,295.07 L343.3,295.07 L343.8,295.07 L344.3,295.07 L344.8,295.07 L345.3,295.07 L345.8,295.07 L346.3,295.07 L346.8,295.07 L347.3,295.07 L347.8,295.07 L348.3,295.07 L348.8,295.07 L349.3,295.06 L349.8,295.06 L350.3,295.06 L350.8,295.06 L351.3,295.06 L351.8,295.06 L352.3,295.06 L352.8,295.06 L353.3,295.06 L353.8,295.06 L354.3,295.06 L354.8,295.06 L355.3,295.06 L355.8,295.06 L356.3,295.06 L356.8,295.06 L357.3,295.06 L357.8,295.06 L358.3,295.06 L358.8,295.06 L359.3,295.06 L359.8,295.05 L360.3,295.05 L360.8,295.05 L361.3,295.05 L361.8,295.05 L362.3,295.05 L362.8,295.05 L363.3,295.05 L363.8,295.05 L364.3,295.05 L364.8,295.05 L365.3,295.05 L365.8,295.05 L366.3,295.05 L366.8,295.04 L367.3,295.04 L367.8,295.04 L368.3,295.04 L368.8,295.04 L369.3,295.04 L369.8,295.04 L370.3,295.04 L370.8,295.04 L371.3,295.04 L371.8,295.04 L372.3,295.04 L372.8,295.03 L373.3,295.03 L373.8,295.03 L374.3,295.03 L374.8,295.03 L375.3,295.03 L375.8,295.03 L376.3,295.03 L376.8,295.03 L377.3,295.02 L377.8,295.02 L378.3,295.02 L378.8,295.02 L379.3,295.02 L379.8,295.02 L380.3,295.02 L380.8,295.01 L381.3,295.01 L381.8,295.01 L382.3,295.01 L382.8,295.01 L383.3,295.01 L383.8,295 L384.3,295 L384.8,295 L385.3,295 L385.8,295 L386.3,294.99 L386.8,294.99 L387.3,294.99 L387.8,294.99 L388.3,294.99 L388.8,294.98 L389.3,294.98 L389.8,294.98 L390.3,294.98 L390.8,294.97 L391.3,294.97 L391.8,294.97 L392.3,294.96 L392.8,294.96 L393.3,294.96 L393.8,294.96 L394.3,294.95 L394.8,294.95 L395.3,294.94 L395.8,294.94 L396.3,294.94 L396.8,294.93 L397.3,294.93 L397.8,294.92 L398.3,294.92 L398.8,294.92 L399.3,294.91 L399.8,294.91 L400.3,294.9 L400.8,294.89 L401.3,294.89 L401.8,294.88 L402.3,294.88 L402.8,294.87 L403.3,294.86 L403.8,294.86 L404.3,294.85 L404.8,294.84 L405.3,294.83 L405.8,294.83 L406.3,294.82 L406.8,294.81 L407.3,294.8 L407.8,294.79 L408.3,294.78 L408.8,294.77 L409.3,294.75 L409.8,294.74 L410.3,294.73 L410.8,294.71 L411.3,294.7 L411.8,294.68 L412.3,294.67 L412.8,294.65 L413.3,294.63 L413.8,294.61 L414.3,294.59 L414.8,294.57 L415.3,294.54 L415.8,294.52 L416.3,294.49 L416.8,294.46 L417.3,294.43 L417.8,294.4 L418.3,294.36 L418.8,294.32 L419.3,294.27 L419.8,294.22 L420.3,294.16 L420.8,294.1 L421.3,294.02 L421.8,293.94 L422.3,293.83 L422.8,293.71 L423.3,293.56 L423.8,293.39 L424.3,293.18 L424.8,292.92 L425.3,292.62 L425.8,292.25 L426.3,291.81 L426.8,291.3 L427.3,290.69 L427.8,289.98 L428.3,289.17 L428.8,288.24 L429.3,287.19 L429.8,286.02 L430.3,284.74 L430.8,283.34 L431.3,281.85 L431.8,280.28 L432.3,278.65 L432.8,277.01 L433.3,275.37 L433.8,273.8 L434.3,272.33 L434.8,271.04 L435.3,269.97 L435.8,269.18 L436.3,268.72 L436.8,268.61 L437.3,268.86 L437.8,269.46 L438.3,270.37 L438.8,271.53 L439.3,272.9 L439.8,274.42 L440.3,276.02 L440.8,277.67 L441.3,279.31 L441.8,280.92 L442.3,282.46 L442.8,283.91 L443.3,285.26 L443.8,286.5 L444.3,287.62 L444.8,288.62 L445.3,289.51 L445.8,290.28 L446.3,290.94 L446.8,291.51 L447.3,292 L447.8,292.4 L448.3,292.74 L448.8,293.03 L449.3,293.27 L449.8,293.46 L450.3,293.62 L450.8,293.76 L451.3,293.88 L451.8,293.97 L452.3,294.05 L452.8,294.13 L453.3,294.19 L453.8,294.24 L454.3,294.29 L454.8,294.33 L455.3,294.37 L455.8,294.41 L456.3,294.44 L456.8,294.47 L457.3,294.5 L457.8,294.53 L458.3,294.55 L458.8,294.58 L459.3,294.6 L459.8,294.62 L460.3,294.64 L460.8,294.66 L461.3,294.67 L461.8,294.69 L462.3,294.7 L462.8,294.72 L463.3,294.73 L463.8,294.75 L464.3,294.76 L464.8,294.77 L465.3,294.78 L465.8,294.79 L466.3,294.8 L466.8,294.81 L467.3,294.82 L467.8,294.83 L468.3,294.84 L468.8,294.84 L469.3,294.85 L469.8,294.86 L470.3,294.87 L470.8,294.87 L471.3,294.88 L471.8,294.89 L472.3,294.89 L472.8,294.9 L473.3,294.9 L473.8,294.91 L474.3,294.91 L474.8,294.92 L475.3,294.92 L475.8,294.93 L476.3,294.93 L476.8,294.93 L477.3,294.94 L477.8,294.94 L478.3,294.95 L478.8,294.95 L479.3,294.95 L479.8,294.96 L480.3,294.96 L480.8,294.96 L481.3,294.97 L481.8,294.97 L482.3,294.97 L482.8,294.97 L483.3,294.98 L483.8,294.98 L484.3,294.98 L484.8,294.98 L485.3,294.99 L485.8,294.99 L486.3,294.99 L486.8,294.99 L487.3,295 L487.8,295 L488.3,295 L488.8,295 L489.3,295 L489.8,295.01 L490.3,295.01 L490.8,295.01 L491.3,295.01 L491.8,295.01 L492.3,295.01 L492.8,295.01 L493.3,295.02 L493.8,295.02 L494.3,295.02 L494.8,295.02 L495.3,295.02 L495.8,295.02 L496.3,295.02 L496.8,295.03 L497.3,295.03 L497.8,295.03 L498.3,295.03 L498.8,295.03 L499.3,295.03 L499.8,295.03 L500.3,295.03 L500.8,295.03 L501.3,295.04 L501.8,295.04 L502.3,295.04 L502.8,295.04 L503.3,295.04 L503.8,295.04 L504.3,295.04 L504.8,295.04 L505.3,295.04 L505.8,295.04 L506.3,295.04 L506.8,295.05 L507.3,295.05 L507.8,295.05 L508.3,295.05 L508.8,295.05 L509.3,295.05 L509.8,295.05 L510.3,295.05 L510.8,295.05 L511.3,295.05 L511.8,295.05 L512.3,295.05 L512.8,295.05 L513.3,295.05 L513.8,295.05 L514.3,295.06 L514.8,295.06 L515.3,295.06 L515.8,295.06 L516.3,295.06 L516.8,295.06 L517.3,295.06 L517.8,295.06 L518.3,295.06 L518.8,295.06 L519.3,295.06 L519.8,295.06 L520.3,295.06 L520.8,295.06 L521.3,295.06 L521.8,295.06 L522.3,295.06 L522.8,295.06 L523.3,295.06 L523.8,295.06 L524.3,295.06 L524.8,295.07 L525.3,295.07 L525.8,295.07 L526.3,295.07 L526.8,295.07 L527.3,295.07 L527.8,295.07 L528.3,295.07 L528.8,295.07 L529.3,295.07 L529.8,295.07 L530.3,295.07 L530.8,295.07 L531.3,295.07 L531.8,295.07 L532.3,295.07 L532.8,295.07 L533.3,295.07 L533.8,295.07 L534.3,295.07 L534.8,295.07 L535.3,295.07" fill="none" stroke="#f29a38" stroke-width="1.6" stroke-linejoin="round" stroke-dasharray="3.9 2.3" />
<path d="M305.8,295.1 L306.3,295.1 L306.8,295.1 L307.3,295.1 L307.8,295.1 L308.3,295.1 L308.8,295.1 L309.3,295.1 L309.8,295.1 L310.3,295.1 L310.8,295.1 L311.3,295.1 L311.8,295.1 L312.3,295.1 L312.8,295.1 L313.3,295.1 L313.8,295.1 L314.3,295.1 L314.8,295.1 L315.3,295.1 L315.8,295.1 L316.3,295.1 L316.8,295.1 L317.3,295.1 L317.8,295.1 L318.3,295.1 L318.8,295.1 L319.3,295.1 L319.8,295.1 L320.3,295.1 L320.8,295.1 L321.3,295.1 L321.8,295.1 L322.3,295.1 L322.8,295.1 L323.3,295.1 L323.8,295.1 L324.3,295.1 L324.8,295.1 L325.3,295.1 L325.8,295.1 L326.3,295.1 L326.8,295.1 L327.3,295.1 L327.8,295.1 L328.3,295.1 L328.8,295.1 L329.3,295.1 L329.8,295.1 L330.3,295.1 L330.8,295.1 L331.3,295.1 L331.8,295.1 L332.3,295.1 L332.8,295.1 L333.3,295.1 L333.8,295.1 L334.3,295.1 L334.8,295.1 L335.3,295.1 L335.8,295.1 L336.3,295.1 L336.8,295.1 L337.3,295.1 L337.8,295.1 L338.3,295.1 L338.8,295.1 L339.3,295.1 L339.8,295.1 L340.3,295.1 L340.8,295.1 L341.3,295.1 L341.8,295.1 L342.3,295.1 L342.8,295.1 L343.3,295.1 L343.8,295.1 L344.3,295.1 L344.8,295.1 L345.3,295.1 L345.8,295.1 L346.3,295.1 L346.8,295.1 L347.3,295.1 L347.8,295.1 L348.3,295.1 L348.8,295.1 L349.3,295.1 L349.8,295.1 L350.3,295.1 L350.8,295.1 L351.3,295.1 L351.8,295.1 L352.3,295.1 L352.8,295.1 L353.3,295.1 L353.8,295.1 L354.3,295.1 L354.8,295.1 L355.3,295.1 L355.8,295.1 L356.3,295.1 L356.8,295.1 L357.3,295.1 L357.8,295.1 L358.3,295.1 L358.8,295.1 L359.3,295.1 L359.8,295.1 L360.3,295.1 L360.8,295.1 L361.3,295.1 L361.8,295.1 L362.3,295.1 L362.8,295.1 L363.3,295.1 L363.8,295.1 L364.3,295.1 L364.8,295.1 L365.3,295.1 L365.8,295.1 L366.3,295.1 L366.8,295.1 L367.3,295.1 L367.8,295.1 L368.3,295.1 L368.8,295.1 L369.3,295.1 L369.8,295.1 L370.3,295.1 L370.8,295.1 L371.3,295.1 L371.8,295.1 L372.3,295.1 L372.8,295.1 L373.3,295.1 L373.8,295.1 L374.3,295.1 L374.8,295.1 L375.3,295.1 L375.8,295.1 L376.3,295.1 L376.8,295.1 L377.3,295.1 L377.8,295.1 L378.3,295.1 L378.8,295.1 L379.3,295.1 L379.8,295.1 L380.3,295.1 L380.8,295.1 L381.3,295.1 L381.8,295.1 L382.3,295.1 L382.8,295.1 L383.3,295.1 L383.8,295.1 L384.3,295.1 L384.8,295.1 L385.3,295.1 L385.8,295.1 L386.3,295.1 L386.8,295.1 L387.3,295.1 L387.8,295.1 L388.3,295.1 L388.8,295.1 L389.3,295.1 L389.8,295.1 L390.3,295.1 L390.8,295.1 L391.3,295.1 L391.8,295.1 L392.3,295.1 L392.8,295.1 L393.3,295.1 L393.8,295.1 L394.3,295.1 L394.8,295.1 L395.3,295.1 L395.8,295.1 L396.3,295.1 L396.8,295.1 L397.3,295.1 L397.8,295.1 L398.3,295.1 L398.8,295.1 L399.3,295.1 L399.8,295.1 L400.3,295.1 L400.8,295.1 L401.3,295.1 L401.8,295.1 L402.3,295.1 L402.8,295.1 L403.3,295.1 L403.8,295.1 L404.3,295.1 L404.8,295.1 L405.3,295.1 L405.8,295.1 L406.3,295.1 L406.8,295.1 L407.3,295.1 L407.8,295.1 L408.3,295.1 L408.8,295.1 L409.3,295.1 L409.8,295.1 L410.3,295.1 L410.8,295.1 L411.3,295.1 L411.8,295.1 L412.3,295.1 L412.8,295.1 L413.3,295.1 L413.8,295.1 L414.3,295.1 L414.8,295.1 L415.3,295.1 L415.8,295.1 L416.3,295.1 L416.8,295.1 L417.3,295.1 L417.8,295.1 L418.3,295.1 L418.8,295.1 L419.3,295.1 L419.8,295.1 L420.3,295.1 L420.8,295.1 L421.3,295.1 L421.8,295.1 L422.3,295.1 L422.8,295.1 L423.3,295.1 L423.8,295.1 L424.3,295.1 L424.8,295.1 L425.3,295.1 L425.8,295.1 L426.3,295.1 L426.8,295.1 L427.3,295.1 L427.8,295.1 L428.3,295.1 L428.8,295.1 L429.3,295.1 L429.8,295.1 L430.3,295.1 L430.8,295.1 L431.3,295.1 L431.8,295.1 L432.3,295.1 L432.8,295.1 L433.3,295.1 L433.8,295.1 L434.3,295.1 L434.8,295.1 L435.3,295.1 L435.8,295.1 L436.3,295.1 L436.8,295.1 L437.3,295.1 L437.8,295.1 L438.3,295.1 L438.8,295.1 L439.3,295.1 L439.8,295.1 L440.3,295.1 L440.8,295.1 L441.3,295.1 L441.8,295.1 L442.3,295.1 L442.8,295.1 L443.3,295.1 L443.8,295.1 L444.3,295.1 L444.8,295.1 L445.3,295.1 L445.8,295.1 L446.3,295.1 L446.8,295.1 L447.3,295.1 L447.8,295.1 L448.3,295.1 L448.8,295.1 L449.3,295.1 L449.8,295.1 L450.3,295.1 L450.8,295.1 L451.3,295.1 L451.8,295.1 L452.3,295.1 L452.8,295.1 L453.3,295.1 L453.8,295.1 L454.3,295.1 L454.8,295.1 L455.3,295.1 L455.8,295.1 L456.3,295.1 L456.8,295.1 L457.3,295.1 L457.8,295.1 L458.3,295.1 L458.8,295.09 L459.3,295.09 L459.8,295.07 L460.3,295.06 L460.8,295.02 L461.3,294.97 L461.8,294.89 L462.3,294.76 L462.8,294.57 L463.3,294.28 L463.8,293.87 L464.3,293.28 L464.8,292.48 L465.3,291.41 L465.8,290 L466.3,288.21 L466.8,286 L467.3,283.33 L467.8,280.2 L468.3,276.64 L468.8,272.72 L469.3,268.55 L469.8,264.28 L470.3,260.08 L470.8,256.17 L471.3,252.74 L471.8,250 L472.3,248.11 L472.8,247.18 L473.3,247.29 L473.8,248.41 L474.3,250.48 L474.8,253.38 L475.3,256.92 L475.8,260.9 L476.3,265.13 L476.8,269.4 L477.3,273.53 L477.8,277.38 L478.3,280.86 L478.8,283.9 L479.3,286.48 L479.8,288.6 L480.3,290.31 L480.8,291.65 L481.3,292.66 L481.8,293.42 L482.3,293.96 L482.8,294.35 L483.3,294.61 L483.8,294.79 L484.3,294.91 L484.8,294.98 L485.3,295.03 L485.8,295.06 L486.3,295.08 L486.8,295.09 L487.3,295.09 L487.8,295.1 L488.3,295.1 L488.8,295.1 L489.3,295.1 L489.8,295.1 L490.3,295.1 L490.8,295.1 L491.3,295.1 L491.8,295.1 L492.3,295.1 L492.8,295.1 L493.3,295.1 L493.8,295.1 L494.3,295.1 L494.8,295.1 L495.3,295.1 L495.8,295.1 L496.3,295.1 L496.8,295.1 L497.3,295.1 L497.8,295.1 L498.3,295.1 L498.8,295.1 L499.3,295.1 L499.8,295.1 L500.3,295.1 L500.8,295.1 L501.3,295.1 L501.8,295.1 L502.3,295.1 L502.8,295.1 L503.3,295.1 L503.8,295.1 L504.3,295.1 L504.8,295.1 L505.3,295.1 L505.8,295.1 L506.3,295.1 L506.8,295.1 L507.3,295.1 L507.8,295.1 L508.3,295.1 L508.8,295.1 L509.3,295.1 L509.8,295.1 L510.3,295.1 L510.8,295.1 L511.3,295.1 L511.8,295.1 L512.3,295.1 L512.8,295.1 L513.3,295.1 L513.8,295.1 L514.3,295.1 L514.8,295.1 L515.3,295.1 L515.8,295.1 L516.3,295.1 L516.8,295.1 L517.3,295.1 L517.8,295.1 L518.3,295.1 L518.8,295.1 L519.3,295.1 L519.8,295.1 L520.3,295.1 L520.8,295.1 L521.3,295.1 L521.8,295.1 L522.3,295.1 L522.8,295.1 L523.3,295.1 L523.8,295.1 L524.3,295.1 L524.8,295.1 L525.3,295.1 L525.8,295.1 L526.3,295.1 L526.8,295.1 L527.3,295.1 L527.8,295.1 L528.3,295.1 L528.8,295.1 L529.3,295.1 L529.8,295.1 L530.3,295.1 L530.8,295.1 L531.3,295.1 L531.8,295.1 L532.3,295.1 L532.8,295.1 L533.3,295.1 L533.8,295.1 L534.3,295.1 L534.8,295.1 L535.3,295.1" fill="none" stroke="#f29a38" stroke-width="1.6" stroke-linejoin="round" stroke-dasharray="3.9 2.3" />
<path d="M305.8,295.08 L306.3,295.08 L306.8,295.08 L307.3,295.08 L307.8,295.08 L308.3,295.08 L308.8,295.08 L309.3,295.08 L309.8,295.08 L310.3,295.08 L310.8,295.08 L311.3,295.08 L311.8,295.08 L312.3,295.08 L312.8,295.08 L313.3,295.08 L313.8,295.08 L314.3,295.08 L314.8,295.08 L315.3,295.08 L315.8,295.08 L316.3,295.08 L316.8,295.08 L317.3,295.08 L317.8,295.08 L318.3,295.08 L318.8,295.08 L319.3,295.08 L319.8,295.08 L320.3,295.08 L320.8,295.08 L321.3,295.08 L321.8,295.08 L322.3,295.08 L322.8,295.08 L323.3,295.08 L323.8,295.08 L324.3,295.08 L324.8,295.08 L325.3,295.08 L325.8,295.08 L326.3,295.08 L326.8,295.08 L327.3,295.08 L327.8,295.08 L328.3,295.08 L328.8,295.08 L329.3,295.08 L329.8,295.08 L330.3,295.08 L330.8,295.08 L331.3,295.08 L331.8,295.08 L332.3,295.08 L332.8,295.08 L333.3,295.07 L333.8,295.07 L334.3,295.07 L334.8,295.07 L335.3,295.07 L335.8,295.07 L336.3,295.07 L336.8,295.07 L337.3,295.07 L337.8,295.07 L338.3,295.07 L338.8,295.07 L339.3,295.07 L339.8,295.07 L340.3,295.07 L340.8,295.07 L341.3,295.07 L341.8,295.07 L342.3,295.07 L342.8,295.07 L343.3,295.07 L343.8,295.07 L344.3,295.07 L344.8,295.07 L345.3,295.07 L345.8,295.07 L346.3,295.07 L346.8,295.07 L347.3,295.07 L347.8,295.07 L348.3,295.07 L348.8,295.07 L349.3,295.06 L349.8,295.06 L350.3,295.06 L350.8,295.06 L351.3,295.06 L351.8,295.06 L352.3,295.06 L352.8,295.06 L353.3,295.06 L353.8,295.06 L354.3,295.06 L354.8,295.06 L355.3,295.06 L355.8,295.06 L356.3,295.06 L356.8,295.06 L357.3,295.06 L357.8,295.06 L358.3,295.06 L358.8,295.06 L359.3,295.06 L359.8,295.05 L360.3,295.05 L360.8,295.05 L361.3,295.05 L361.8,295.05 L362.3,295.05 L362.8,295.05 L363.3,295.05 L363.8,295.05 L364.3,295.05 L364.8,295.05 L365.3,295.05 L365.8,295.05 L366.3,295.05 L366.8,295.04 L367.3,295.04 L367.8,295.04 L368.3,295.04 L368.8,295.04 L369.3,295.04 L369.8,295.04 L370.3,295.04 L370.8,295.04 L371.3,295.04 L371.8,295.04 L372.3,295.04 L372.8,295.03 L373.3,295.03 L373.8,295.03 L374.3,295.03 L374.8,295.03 L375.3,295.03 L375.8,295.03 L376.3,295.03 L376.8,295.03 L377.3,295.02 L377.8,295.02 L378.3,295.02 L378.8,295.02 L379.3,295.02 L379.8,295.02 L380.3,295.02 L380.8,295.01 L381.3,295.01 L381.8,295.01 L382.3,295.01 L382.8,295.01 L383.3,295.01 L383.8,295 L384.3,295 L384.8,295 L385.3,295 L385.8,295 L386.3,294.99 L386.8,294.99 L387.3,294.99 L387.8,294.99 L388.3,294.99 L388.8,294.98 L389.3,294.98 L389.8,294.98 L390.3,294.98 L390.8,294.97 L391.3,294.97 L391.8,294.97 L392.3,294.96 L392.8,294.96 L393.3,294.96 L393.8,294.96 L394.3,294.95 L394.8,294.95 L395.3,294.94 L395.8,294.94 L396.3,294.94 L396.8,294.93 L397.3,294.93 L397.8,294.92 L398.3,294.92 L398.8,294.92 L399.3,294.91 L399.8,294.91 L400.3,294.9 L400.8,294.89 L401.3,294.89 L401.8,294.88 L402.3,294.88 L402.8,294.87 L403.3,294.86 L403.8,294.86 L404.3,294.85 L404.8,294.84 L405.3,294.83 L405.8,294.83 L406.3,294.82 L406.8,294.81 L407.3,294.8 L407.8,294.79 L408.3,294.78 L408.8,294.77 L409.3,294.75 L409.8,294.74 L410.3,294.73 L410.8,294.71 L411.3,294.7 L411.8,294.68 L412.3,294.67 L412.8,294.65 L413.3,294.63 L413.8,294.61 L414.3,294.59 L414.8,294.57 L415.3,294.54 L415.8,294.52 L416.3,294.49 L416.8,294.46 L417.3,294.43 L417.8,294.4 L418.3,294.36 L418.8,294.32 L419.3,294.27 L419.8,294.22 L420.3,294.16 L420.8,294.1 L421.3,294.02 L421.8,293.94 L422.3,293.83 L422.8,293.71 L423.3,293.56 L423.8,293.39 L424.3,293.18 L424.8,292.92 L425.3,292.62 L425.8,292.25 L426.3,291.81 L426.8,291.3 L427.3,290.69 L427.8,289.98 L428.3,289.17 L428.8,288.24 L429.3,287.19 L429.8,286.02 L430.3,284.74 L430.8,283.34 L431.3,281.85 L431.8,280.28 L432.3,278.65 L432.8,277.01 L433.3,275.37 L433.8,273.8 L434.3,272.33 L434.8,271.04 L435.3,269.97 L435.8,269.18 L436.3,268.72 L436.8,268.61 L437.3,268.86 L437.8,269.46 L438.3,270.37 L438.8,271.53 L439.3,272.9 L439.8,274.42 L440.3,276.02 L440.8,277.67 L441.3,279.31 L441.8,280.92 L442.3,282.46 L442.8,283.91 L443.3,285.26 L443.8,286.5 L444.3,287.62 L444.8,288.62 L445.3,289.51 L445.8,290.28 L446.3,290.94 L446.8,291.51 L447.3,292 L447.8,292.4 L448.3,292.74 L448.8,293.03 L449.3,293.27 L449.8,293.46 L450.3,293.62 L450.8,293.76 L451.3,293.88 L451.8,293.97 L452.3,294.05 L452.8,294.13 L453.3,294.19 L453.8,294.24 L454.3,294.29 L454.8,294.33 L455.3,294.37 L455.8,294.41 L456.3,294.44 L456.8,294.47 L457.3,294.5 L457.8,294.53 L458.3,294.55 L458.8,294.58 L459.3,294.6 L459.8,294.62 L460.3,294.64 L460.8,294.66 L461.3,294.67 L461.8,294.69 L462.3,294.7 L462.8,294.72 L463.3,294.73 L463.8,294.75 L464.3,294.76 L464.8,294.77 L465.3,294.78 L465.8,294.79 L466.3,294.8 L466.8,294.81 L467.3,294.82 L467.8,294.83 L468.3,294.84 L468.8,294.84 L469.3,294.85 L469.8,294.86 L470.3,294.87 L470.8,294.87 L471.3,294.88 L471.8,294.89 L472.3,294.89 L472.8,294.9 L473.3,294.9 L473.8,294.91 L474.3,294.91 L474.8,294.92 L475.3,294.92 L475.8,294.93 L476.3,294.93 L476.8,294.93 L477.3,294.94 L477.8,294.94 L478.3,294.95 L478.8,294.95 L479.3,294.95 L479.8,294.96 L480.3,294.96 L480.8,294.96 L481.3,294.97 L481.8,294.97 L482.3,294.97 L482.8,294.97 L483.3,294.98 L483.8,294.98 L484.3,294.98 L484.8,294.98 L485.3,294.99 L485.8,294.99 L486.3,294.99 L486.8,294.99 L487.3,295 L487.8,295 L488.3,295 L488.8,295 L489.3,295 L489.8,295.01 L490.3,295.01 L490.8,295.01 L491.3,295.01 L491.8,295.01 L492.3,295.01 L492.8,295.01 L493.3,295.02 L493.8,295.02 L494.3,295.02 L494.8,295.02 L495.3,295.02 L495.8,295.02 L496.3,295.02 L496.8,295.03 L497.3,295.03 L497.8,295.03 L498.3,295.03 L498.8,295.03 L499.3,295.03 L499.8,295.03 L500.3,295.03 L500.8,295.03 L501.3,295.04 L501.8,295.04 L502.3,295.04 L502.8,295.04 L503.3,295.04 L503.8,295.04 L504.3,295.04 L504.8,295.04 L505.3,295.04 L505.8,295.04 L506.3,295.04 L506.8,295.05 L507.3,295.05 L507.8,295.05 L508.3,295.05 L508.8,295.05 L509.3,295.05 L509.8,295.05 L510.3,295.05 L510.8,295.05 L511.3,295.05 L511.8,295.05 L512.3,295.05 L512.8,295.05 L513.3,295.05 L513.8,295.05 L514.3,295.06 L514.8,295.06 L515.3,295.06 L515.8,295.06 L516.3,295.06 L516.8,295.06 L517.3,295.06 L517.8,295.06 L518.3,295.06 L518.8,295.06 L519.3,295.06 L519.8,295.06 L520.3,295.06 L520.8,295.06 L521.3,295.06 L521.8,295.06 L522.3,295.06 L522.8,295.06 L523.3,295.06 L523.8,295.06 L524.3,295.06 L524.8,295.07 L525.3,295.07 L525.8,295.07 L526.3,295.07 L526.8,295.07 L527.3,295.07 L527.8,295.07 L528.3,295.07 L528.8,295.07 L529.3,295.07 L529.8,295.07 L530.3,295.07 L530.8,295.07 L531.3,295.07 L531.8,295.07 L532.3,295.07 L532.8,295.07 L533.3,295.07 L533.8,295.07 L534.3,295.07 L534.8,295.07 L535.3,295.07" fill="none" stroke="#22e022" stroke-width="1.6" stroke-linejoin="round" stroke-dasharray="3.9 2.3" />
<path d="M305.8,295.57 L306.3,295.36 L306.8,295.59 L307.3,295.58 L307.8,295.3 L308.3,295.43 L308.8,295.54 L309.3,295.59 L309.8,295.43 L310.3,295.37 L310.8,295.36 L311.3,295.58 L311.8,295.36 L312.3,295.47 L312.8,295.33 L313.3,295.45 L313.8,295.58 L314.3,295.33 L314.8,295.54 L315.3,295.44 L315.8,295.56 L316.3,295.5 L316.8,295.36 L317.3,295.56 L317.8,295.43 L318.3,295.29 L318.8,295.29 L319.3,295.43 L319.8,295.42 L320.3,295.38 L320.8,295.33 L321.3,295.39 L321.8,295.38 L322.3,295.54 L322.8,295.28 L323.3,295.51 L323.8,295.53 L324.3,295.32 L324.8,295.56 L325.3,295.49 L325.8,295.55 L326.3,295.37 L326.8,295.39 L327.3,295.4 L327.8,295.58 L328.3,295.45 L328.8,295.38 L329.3,295.4 L329.8,295.36 L330.3,295.29 L330.8,295.3 L331.3,295.52 L331.8,295.36 L332.3,295.55 L332.8,295.34 L333.3,295.35 L333.8,295.42 L334.3,295.32 L334.8,295.38 L335.3,295.55 L335.8,295.53 L336.3,295.51 L336.8,295.45 L337.3,295.54 L337.8,295.54 L338.3,295.43 L338.8,295.48 L339.3,295.27 L339.8,295.48 L340.3,295.39 L340.8,295.48 L341.3,295.45 L341.8,295.34 L342.3,295.27 L342.8,295.53 L343.3,295.29 L343.8,295.39 L344.3,295.35 L344.8,295.34 L345.3,295.47 L345.8,295.54 L346.3,295.32 L346.8,295.44 L347.3,295.33 L347.8,295.41 L348.3,295.36 L348.8,295.29 L349.3,295.29 L349.8,295.3 L350.3,295.51 L350.8,295.39 L351.3,295.3 L351.8,295.51 L352.3,295.53 L352.8,295.37 L353.3,295.27 L353.8,295.29 L354.3,295.25 L354.8,295.33 L355.3,295.25 L355.8,295.3 L356.3,295.3 L356.8,295.39 L357.3,295.49 L357.8,295.44 L358.3,295.34 L358.8,295.34 L359.3,295.37 L359.8,295.32 L360.3,295.31 L360.8,295.23 L361.3,295.29 L361.8,295.49 L362.3,295.24 L362.8,295.35 L363.3,295.39 L363.8,295.46 L364.3,295.26 L364.8,295.27 L365.3,295.27 L365.8,295.31 L366.3,295.32 L366.8,295.47 L367.3,295.44 L367.8,295.44 L368.3,295.18 L368.8,295.19 L369.3,295.39 L369.8,295.44 L370.3,295.31 L370.8,295.34 L371.3,295.16 L371.8,295.28 L372.3,295.44 L372.8,295.4 L373.3,295.41 L373.8,295.44 L374.3,295.22 L374.8,295.18 L375.3,295.19 L375.8,295.29 L376.3,295.34 L376.8,295.41 L377.3,295.34 L377.8,295.32 L378.3,295.35 L378.8,295.26 L379.3,295.28 L379.8,295.12 L380.3,295.34 L380.8,295.17 L381.3,295.37 L381.8,295.29 L382.3,295.18 L382.8,295.12 L383.3,295.16 L383.8,295.27 L384.3,295.28 L384.8,295.1 L385.3,295.08 L385.8,295.21 L386.3,295.23 L386.8,295.16 L387.3,295.11 L387.8,295.21 L388.3,295.03 L388.8,295.11 L389.3,295.15 L389.8,295.3 L390.3,295.2 L390.8,295.26 L391.3,295.13 L391.8,295.05 L392.3,295.05 L392.8,295.25 L393.3,295.17 L393.8,295.04 L394.3,294.94 L394.8,295.08 L395.3,295.12 L395.8,295.03 L396.3,294.97 L396.8,295.08 L397.3,295.15 L397.8,294.93 L398.3,294.86 L398.8,294.93 L399.3,294.94 L399.8,295.01 L400.3,294.84 L400.8,295.01 L401.3,294.97 L401.8,294.88 L402.3,294.77 L402.8,294.98 L403.3,294.76 L403.8,294.88 L404.3,294.68 L404.8,294.65 L405.3,294.78 L405.8,294.61 L406.3,294.77 L406.8,294.6 L407.3,294.47 L407.8,294.44 L408.3,294.46 L408.8,294.48 L409.3,294.52 L409.8,294.23 L410.3,294.25 L410.8,294.13 L411.3,294.3 L411.8,293.98 L412.3,293.89 L412.8,293.81 L413.3,293.84 L413.8,293.9 L414.3,293.81 L414.8,293.67 L415.3,293.65 L415.8,293.52 L416.3,293.23 L416.8,293.06 L417.3,293.16 L417.8,292.97 L418.3,292.61 L418.8,292.65 L419.3,292.41 L419.8,292.24 L420.3,292.04 L420.8,291.8 L421.3,291.55 L421.8,291.41 L422.3,291.2 L422.8,291.13 L423.3,290.62 L423.8,290.59 L424.3,290.05 L424.8,289.77 L425.3,289.55 L425.8,289.16 L426.3,288.63 L426.8,288.05 L427.3,287.68 L427.8,287.1 L428.3,286.66 L428.8,285.77 L429.3,285.08 L429.8,284.42 L430.3,283.24 L430.8,282.34 L431.3,281.34 L431.8,280.09 L432.3,278.51 L432.8,277.04 L433.3,275.49 L433.8,274.14 L434.3,272.33 L434.8,270.95 L435.3,269.66 L435.8,268.44 L436.3,267.77 L436.8,267.78 L437.3,267.96 L437.8,268.58 L438.3,269.79 L438.8,271 L439.3,272.46 L439.8,273.9 L440.3,275.62 L440.8,277.09 L441.3,278.33 L441.8,279.63 L442.3,280.44 L442.8,281.48 L443.3,282.42 L443.8,283.33 L444.3,284.01 L444.8,284.44 L445.3,284.93 L445.8,285.46 L446.3,285.9 L446.8,286.4 L447.3,286.5 L447.8,286.98 L448.3,287.22 L448.8,287.47 L449.3,287.66 L449.8,287.79 L450.3,287.87 L450.8,288 L451.3,288.14 L451.8,288.37 L452.3,288.26 L452.8,288.37 L453.3,288.61 L453.8,288.51 L454.3,288.5 L454.8,288.53 L455.3,288.71 L455.8,288.65 L456.3,288.85 L456.8,288.82 L457.3,288.83 L457.8,288.59 L458.3,288.49 L458.8,288.44 L459.3,288.49 L459.8,288.47 L460.3,288.28 L460.8,288.09 L461.3,287.98 L461.8,287.85 L462.3,287.62 L462.8,287.35 L463.3,287.01 L463.8,286.49 L464.3,285.75 L464.8,285.26 L465.3,284.21 L465.8,283.21 L466.3,281.83 L466.8,280.34 L467.3,278.28 L467.8,276.07 L468.3,273.5 L468.8,270.57 L469.3,267.56 L469.8,263.97 L470.3,260.24 L470.8,256.58 L471.3,253.3 L471.8,250.19 L472.3,247.96 L472.8,247.09 L473.3,247.26 L473.8,248.83 L474.3,251.08 L474.8,254.46 L475.3,258.27 L475.8,262.14 L476.3,265.97 L476.8,269.33 L477.3,272.74 L477.8,275.7 L478.3,278.39 L478.8,280.95 L479.3,282.82 L479.8,284.62 L480.3,285.88 L480.8,287.22 L481.3,288.09 L481.8,288.86 L482.3,289.7 L482.8,290.33 L483.3,290.56 L483.8,291.12 L484.3,291.49 L484.8,291.68 L485.3,292 L485.8,292.17 L486.3,292.41 L486.8,292.62 L487.3,292.9 L487.8,293.07 L488.3,293.08 L488.8,293.16 L489.3,293.38 L489.8,293.6 L490.3,293.55 L490.8,293.69 L491.3,293.74 L491.8,294 L492.3,294.01 L492.8,293.93 L493.3,294.01 L493.8,294.16 L494.3,294.26 L494.8,294.34 L495.3,294.23 L495.8,294.3 L496.3,294.5 L496.8,294.45 L497.3,294.45 L497.8,294.5 L498.3,294.73 L498.8,294.57 L499.3,294.67 L499.8,294.64 L500.3,294.68 L500.8,294.84 L501.3,294.91 L501.8,294.74 L502.3,294.71 L502.8,294.89 L503.3,294.76 L503.8,294.71 L504.3,295 L504.8,294.88 L505.3,295.01 L505.8,294.9 L506.3,295.06 L506.8,294.95 L507.3,294.87 L507.8,294.84 L508.3,295.02 L508.8,295.05 L509.3,295.15 L509.8,294.91 L510.3,295.08 L510.8,295.02 L511.3,295.07 L511.8,294.97 L512.3,295.02 L512.8,295.1 L513.3,295.23 L513.8,294.99 L514.3,295.12 L514.8,295.22 L515.3,295.28 L515.8,295.05 L516.3,295.04 L516.8,295.29 L517.3,295.31 L517.8,295.16 L518.3,295.04 L518.8,295.31 L519.3,295.15 L519.8,295.32 L520.3,295.24 L520.8,295.3 L521.3,295.11 L521.8,295.3 L522.3,295.14 L522.8,295.2 L523.3,295.33 L523.8,295.33 L524.3,295.14 L524.8,295.16 L525.3,295.22 L525.8,295.26 L526.3,295.22 L526.8,295.15 L527.3,295.19 L527.8,295.34 L528.3,295.39 L528.8,295.14 L529.3,295.3 L529.8,295.36 L530.3,295.15 L530.8,295.39 L531.3,295.18 L531.8,295.32 L532.3,295.31 L532.8,295.34 L533.3,295.25 L533.8,295.28 L534.3,295.33 L534.8,295.29 L535.3,295.36" fill="none" stroke="#0000ff" stroke-width="1.7" stroke-linejoin="round" />
<path d="M305.8,294.58 L306.3,294.58 L306.8,294.58 L307.3,294.58 L307.8,294.58 L308.3,294.58 L308.8,294.58 L309.3,294.58 L309.8,294.58 L310.3,294.58 L310.8,294.58 L311.3,294.58 L311.8,294.58 L312.3,294.58 L312.8,294.58 L313.3,294.58 L313.8,294.58 L314.3,294.58 L314.8,294.58 L315.3,294.58 L315.8,294.58 L316.3,294.58 L316.8,294.58 L317.3,294.58 L317.8,294.58 L318.3,294.58 L318.8,294.58 L319.3,294.58 L319.8,294.58 L320.3,294.58 L320.8,294.58 L321.3,294.58 L321.8,294.58 L322.3,294.58 L322.8,294.58 L323.3,294.58 L323.8,294.58 L324.3,294.58 L324.8,294.58 L325.3,294.58 L325.8,294.58 L326.3,294.58 L326.8,294.58 L327.3,294.58 L327.8,294.58 L328.3,294.58 L328.8,294.58 L329.3,294.58 L329.8,294.58 L330.3,294.58 L330.8,294.58 L331.3,294.58 L331.8,294.58 L332.3,294.58 L332.8,294.58 L333.3,294.57 L333.8,294.57 L334.3,294.57 L334.8,294.57 L335.3,294.57 L335.8,294.57 L336.3,294.57 L336.8,294.57 L337.3,294.57 L337.8,294.57 L338.3,294.57 L338.8,294.57 L339.3,294.57 L339.8,294.57 L340.3,294.57 L340.8,294.57 L341.3,294.57 L341.8,294.57 L342.3,294.57 L342.8,294.57 L343.3,294.57 L343.8,294.57 L344.3,294.57 L344.8,294.57 L345.3,294.57 L345.8,294.57 L346.3,294.57 L346.8,294.57 L347.3,294.57 L347.8,294.57 L348.3,294.57 L348.8,294.57 L349.3,294.56 L349.8,294.56 L350.3,294.56 L350.8,294.56 L351.3,294.56 L351.8,294.56 L352.3,294.56 L352.8,294.56 L353.3,294.56 L353.8,294.56 L354.3,294.56 L354.8,294.56 L355.3,294.56 L355.8,294.56 L356.3,294.56 L356.8,294.56 L357.3,294.56 L357.8,294.56 L358.3,294.56 L358.8,294.56 L359.3,294.56 L359.8,294.55 L360.3,294.55 L360.8,294.55 L361.3,294.55 L361.8,294.55 L362.3,294.55 L362.8,294.55 L363.3,294.55 L363.8,294.55 L364.3,294.55 L364.8,294.55 L365.3,294.55 L365.8,294.55 L366.3,294.55 L366.8,294.54 L367.3,294.54 L367.8,294.54 L368.3,294.54 L368.8,294.54 L369.3,294.54 L369.8,294.54 L370.3,294.54 L370.8,294.54 L371.3,294.54 L371.8,294.54 L372.3,294.54 L372.8,294.53 L373.3,294.53 L373.8,294.53 L374.3,294.53 L374.8,294.53 L375.3,294.53 L375.8,294.53 L376.3,294.53 L376.8,294.53 L377.3,294.52 L377.8,294.52 L378.3,294.52 L378.8,294.52 L379.3,294.52 L379.8,294.52 L380.3,294.52 L380.8,294.51 L381.3,294.51 L381.8,294.51 L382.3,294.51 L382.8,294.51 L383.3,294.51 L383.8,294.5 L384.3,294.5 L384.8,294.5 L385.3,294.5 L385.8,294.5 L386.3,294.49 L386.8,294.49 L387.3,294.49 L387.8,294.49 L388.3,294.49 L388.8,294.48 L389.3,294.48 L389.8,294.48 L390.3,294.48 L390.8,294.47 L391.3,294.47 L391.8,294.47 L392.3,294.46 L392.8,294.46 L393.3,294.46 L393.8,294.46 L394.3,294.45 L394.8,294.45 L395.3,294.44 L395.8,294.44 L396.3,294.44 L396.8,294.43 L397.3,294.43 L397.8,294.42 L398.3,294.42 L398.8,294.42 L399.3,294.41 L399.8,294.41 L400.3,294.4 L400.8,294.39 L401.3,294.39 L401.8,294.38 L402.3,294.38 L402.8,294.37 L403.3,294.36 L403.8,294.36 L404.3,294.35 L404.8,294.34 L405.3,294.33 L405.8,294.33 L406.3,294.32 L406.8,294.31 L407.3,294.3 L407.8,294.29 L408.3,294.28 L408.8,294.27 L409.3,294.25 L409.8,294.24 L410.3,294.23 L410.8,294.21 L411.3,294.2 L411.8,294.18 L412.3,294.17 L412.8,294.15 L413.3,294.13 L413.8,294.11 L414.3,294.09 L414.8,294.07 L415.3,294.04 L415.8,294.02 L416.3,293.99 L416.8,293.96 L417.3,293.93 L417.8,293.9 L418.3,293.86 L418.8,293.82 L419.3,293.77 L419.8,293.72 L420.3,293.66 L420.8,293.6 L421.3,293.52 L421.8,293.44 L422.3,293.33 L422.8,293.21 L423.3,293.06 L423.8,292.89 L424.3,292.68 L424.8,292.42 L425.3,292.12 L425.8,291.75 L426.3,291.31 L426.8,290.8 L427.3,290.19 L427.8,289.48 L428.3,288.67 L428.8,287.74 L429.3,286.69 L429.8,285.52 L430.3,284.24 L430.8,282.84 L431.3,281.35 L431.8,279.78 L432.3,278.15 L432.8,276.51 L433.3,274.87 L433.8,273.3 L434.3,271.83 L434.8,270.54 L435.3,269.47 L435.8,268.68 L436.3,268.22 L436.8,268.11 L437.3,268.36 L437.8,268.96 L438.3,269.87 L438.8,271.03 L439.3,272.4 L439.8,273.92 L440.3,275.52 L440.8,277.17 L441.3,278.81 L441.8,280.42 L442.3,281.96 L442.8,283.41 L443.3,284.76 L443.8,286 L444.3,287.12 L444.8,288.12 L445.3,289.01 L445.8,289.78 L446.3,290.44 L446.8,291.01 L447.3,291.5 L447.8,291.9 L448.3,292.24 L448.8,292.53 L449.3,292.77 L449.8,292.96 L450.3,293.12 L450.8,293.26 L451.3,293.38 L451.8,293.47 L452.3,293.55 L452.8,293.63 L453.3,293.69 L453.8,293.74 L454.3,293.79 L454.8,293.83 L455.3,293.87 L455.8,293.91 L456.3,293.94 L456.8,293.97 L457.3,294 L457.8,294.03 L458.3,294.05 L458.8,294.07 L459.3,294.08 L459.8,294.09 L460.3,294.09 L460.8,294.08 L461.3,294.04 L461.8,293.98 L462.3,293.87 L462.8,293.69 L463.3,293.41 L463.8,293.01 L464.3,292.44 L464.8,291.65 L465.3,290.59 L465.8,289.19 L466.3,287.41 L466.8,285.21 L467.3,282.55 L467.8,279.42 L468.3,275.87 L468.8,271.96 L469.3,267.8 L469.8,263.54 L470.3,259.35 L470.8,255.44 L471.3,252.02 L471.8,249.28 L472.3,247.4 L472.8,246.48 L473.3,246.59 L473.8,247.72 L474.3,249.8 L474.8,252.69 L475.3,256.24 L475.8,260.23 L476.3,264.46 L476.8,268.73 L477.3,272.87 L477.8,276.72 L478.3,280.2 L478.8,283.25 L479.3,285.83 L479.8,287.96 L480.3,289.67 L480.8,291.01 L481.3,292.03 L481.8,292.78 L482.3,293.33 L482.8,293.72 L483.3,293.99 L483.8,294.17" fill="none" stroke="#0000ff" stroke-width="1.6" stroke-linejoin="round" stroke-dasharray="3.9 2.3" />
<path d="M484.8,294.98 L485.3,294.99 L485.8,294.99 L486.3,294.99 L486.8,294.99 L487.3,295 L487.8,295 L488.3,295 L488.8,295 L489.3,295 L489.8,295.01 L490.3,295.01 L490.8,295.01 L491.3,295.01 L491.8,295.01 L492.3,295.01 L492.8,295.01 L493.3,295.02 L493.8,295.02 L494.3,295.02 L494.8,295.02 L495.3,295.02 L495.8,295.02 L496.3,295.02 L496.8,295.03 L497.3,295.03 L497.8,295.03 L498.3,295.03 L498.8,295.03 L499.3,295.03 L499.8,295.03 L500.3,295.03 L500.8,295.03 L501.3,295.04 L501.8,295.04 L502.3,295.04 L502.8,295.04 L503.3,295.04 L503.8,295.04 L504.3,295.04 L504.8,295.04 L505.3,295.04 L505.8,295.04 L506.3,295.04 L506.8,295.05 L507.3,295.05 L507.8,295.05 L508.3,295.05 L508.8,295.05 L509.3,295.05 L509.8,295.05 L510.3,295.05 L510.8,295.05 L511.3,295.05 L511.8,295.05 L512.3,295.05 L512.8,295.05 L513.3,295.05 L513.8,295.05 L514.3,295.06 L514.8,295.06 L515.3,295.06 L515.8,295.06 L516.3,295.06 L516.8,295.06 L517.3,295.06 L517.8,295.06 L518.3,295.06 L518.8,295.06 L519.3,295.06 L519.8,295.06 L520.3,295.06 L520.8,295.06 L521.3,295.06 L521.8,295.06 L522.3,295.06 L522.8,295.06 L523.3,295.06 L523.8,295.06 L524.3,295.06 L524.8,295.07 L525.3,295.07 L525.8,295.07 L526.3,295.07 L526.8,295.07 L527.3,295.07 L527.8,295.07 L528.3,295.07 L528.8,295.07 L529.3,295.07 L529.8,295.07 L530.3,295.07 L530.8,295.07 L531.3,295.07 L531.8,295.07 L532.3,295.07 L532.8,295.07 L533.3,295.07 L533.8,295.07 L534.3,295.07 L534.8,295.07 L535.3,295.07" fill="none" stroke="#22e022" stroke-width="1.6" stroke-linejoin="round" stroke-dasharray="3.9 2.3" />
<path d="M305.8,337.6 L306.3,337.6 L306.8,337.6 L307.3,337.6 L307.8,337.6 L308.3,337.6 L308.8,337.6 L309.3,337.6 L309.8,337.6 L310.3,337.6 L310.8,337.6 L311.3,337.6 L311.8,337.6 L312.3,337.6 L312.8,337.6 L313.3,337.6 L313.8,337.6 L314.3,337.6 L314.8,337.6 L315.3,337.6 L315.8,337.6 L316.3,337.6 L316.8,337.6 L317.3,337.6 L317.8,337.6 L318.3,337.6 L318.8,337.6 L319.3,337.6 L319.8,337.6 L320.3,337.6 L320.8,337.6 L321.3,337.6 L321.8,337.6 L322.3,337.6 L322.8,337.6 L323.3,337.6 L323.8,337.6 L324.3,337.6 L324.8,337.6 L325.3,337.6 L325.8,337.6 L326.3,337.6 L326.8,337.6 L327.3,337.6 L327.8,337.6 L328.3,337.6 L328.8,337.6 L329.3,337.6 L329.8,337.6 L330.3,337.6 L330.8,337.6 L331.3,337.6 L331.8,337.6 L332.3,337.6 L332.8,337.6 L333.3,337.6 L333.8,337.6 L334.3,337.6 L334.8,337.6 L335.3,337.6 L335.8,337.6 L336.3,337.6 L336.8,337.6 L337.3,337.6 L337.8,337.6 L338.3,337.6 L338.8,337.6 L339.3,337.6 L339.8,337.6 L340.3,337.6 L340.8,337.6 L341.3,337.6 L341.8,337.6 L342.3,337.6 L342.8,337.6 L343.3,337.6 L343.8,337.6 L344.3,337.6 L344.8,337.6 L345.3,337.6 L345.8,337.6 L346.3,337.6 L346.8,337.6 L347.3,337.6 L347.8,337.6 L348.3,337.6 L348.8,337.6 L349.3,337.6 L349.8,337.6 L350.3,337.6 L350.8,337.6 L351.3,337.6 L351.8,337.6 L352.3,337.6 L352.8,337.6 L353.3,337.6 L353.8,337.6 L354.3,337.6 L354.8,337.6 L355.3,337.6 L355.8,337.6 L356.3,337.6 L356.8,337.6 L357.3,337.6 L357.8,337.6 L358.3,337.6 L358.8,337.6 L359.3,337.6 L359.8,337.6 L360.3,337.6 L360.8,337.6 L361.3,337.6 L361.8,337.6 L362.3,337.6 L362.8,337.6 L363.3,337.6 L363.8,337.6 L364.3,337.6 L364.8,337.6 L365.3,337.6 L365.8,337.6 L366.3,337.6 L366.8,337.6 L367.3,337.6 L367.8,337.6 L368.3,337.6 L368.8,337.6 L369.3,337.6 L369.8,337.6 L370.3,337.6 L370.8,337.6 L371.3,337.6 L371.8,337.6 L372.3,337.6 L372.8,337.6 L373.3,337.6 L373.8,337.6 L374.3,337.6 L374.8,337.6 L375.3,337.6 L375.8,337.6 L376.3,337.6 L376.8,337.6 L377.3,337.6 L377.8,337.6 L378.3,337.6 L378.8,337.6 L379.3,337.6 L379.8,337.6 L380.3,337.6 L380.8,337.6 L381.3,337.6 L381.8,337.6 L382.3,337.6 L382.8,337.6 L383.3,337.6 L383.8,337.6 L384.3,337.6 L384.8,337.6 L385.3,337.6 L385.8,337.6 L386.3,337.6 L386.8,337.6 L387.3,337.6 L387.8,337.6 L388.3,337.6 L388.8,337.6 L389.3,337.6 L389.8,337.6 L390.3,337.6 L390.8,337.6 L391.3,337.6 L391.8,337.6 L392.3,337.6 L392.8,337.6 L393.3,337.6 L393.8,337.6 L394.3,337.6 L394.8,337.6 L395.3,337.6 L395.8,337.6 L396.3,337.6 L396.8,337.6 L397.3,337.6 L397.8,337.6 L398.3,337.6 L398.8,337.6 L399.3,337.6 L399.8,337.6 L400.3,337.6 L400.8,337.6 L401.3,337.6 L401.8,337.6 L402.3,337.6 L402.8,337.6 L403.3,337.6 L403.8,337.6 L404.3,337.6 L404.8,337.6 L405.3,337.6 L405.8,337.6 L406.3,337.6 L406.8,337.6 L407.3,337.6 L407.8,337.6 L408.3,337.6 L408.8,337.6 L409.3,337.6 L409.8,337.6 L410.3,337.6 L410.8,337.6 L411.3,337.6 L411.8,337.6 L412.3,337.6 L412.8,337.6 L413.3,337.6 L413.8,337.6 L414.3,337.6 L414.8,337.6 L415.3,337.6 L415.8,337.6 L416.3,337.6 L416.8,337.6 L417.3,337.6 L417.8,337.6 L418.3,337.6 L418.8,337.6 L419.3,337.6 L419.8,337.6 L420.3,337.6 L420.8,337.6 L421.3,337.6 L421.8,337.6 L422.3,337.6 L422.8,337.6 L423.3,337.6 L423.8,337.6 L424.3,337.6 L424.8,337.6 L425.3,337.6 L425.8,337.6 L426.3,337.6 L426.8,337.6 L427.3,337.6 L427.8,337.6 L428.3,337.6 L428.8,337.6 L429.3,337.6 L429.8,337.6 L430.3,337.6 L430.8,337.6 L431.3,337.6 L431.8,337.6 L432.3,337.6 L432.8,337.6 L433.3,337.6 L433.8,337.6 L434.3,337.6 L434.8,337.6 L435.3,337.6 L435.8,337.6 L436.3,337.6 L436.8,337.6 L437.3,337.6 L437.8,337.6 L438.3,337.6 L438.8,337.6 L439.3,337.6 L439.8,337.6 L440.3,337.6 L440.8,337.6 L441.3,337.6 L441.8,337.6 L442.3,337.6 L442.8,337.6 L443.3,337.6 L443.8,337.6 L444.3,337.6 L444.8,337.6 L445.3,337.6 L445.8,337.6 L446.3,337.6 L446.8,337.6 L447.3,337.6 L447.8,337.6 L448.3,337.6 L448.8,337.6 L449.3,337.6 L449.8,337.6 L450.3,337.6 L450.8,337.6 L451.3,337.59 L451.8,337.59 L452.3,337.59 L452.8,337.58 L453.3,337.57 L453.8,337.56 L454.3,337.54 L454.8,337.52 L455.3,337.49 L455.8,337.44 L456.3,337.39 L456.8,337.31 L457.3,337.21 L457.8,337.09 L458.3,336.92 L458.8,336.72 L459.3,336.47 L459.8,336.15 L460.3,335.76 L460.8,335.3 L461.3,334.74 L461.8,334.08 L462.3,333.3 L462.8,332.41 L463.3,331.38 L463.8,330.22 L464.3,328.92 L464.8,327.49 L465.3,325.94 L465.8,324.26 L466.3,322.49 L466.8,320.64 L467.3,318.74 L467.8,316.82 L468.3,314.91 L468.8,313.05 L469.3,311.29 L469.8,309.66 L470.3,308.2 L470.8,306.95 L471.3,305.94 L471.8,305.2 L472.3,304.75 L472.8,304.6 L473.3,304.75 L473.8,305.2 L474.3,305.94 L474.8,306.95 L475.3,308.2 L475.8,309.66 L476.3,311.29 L476.8,313.05 L477.3,314.91 L477.8,316.82 L478.3,318.74 L478.8,320.64 L479.3,322.49 L479.8,324.26 L480.3,325.94 L480.8,327.49 L481.3,328.92 L481.8,330.22 L482.3,331.38 L482.8,332.41 L483.3,333.3 L483.8,334.08 L484.3,334.74 L484.8,335.3 L485.3,335.76 L485.8,336.15 L486.3,336.47 L486.8,336.72 L487.3,336.92 L487.8,337.09 L488.3,337.21 L488.8,337.31 L489.3,337.39 L489.8,337.44 L490.3,337.49 L490.8,337.52 L491.3,337.54 L491.8,337.56 L492.3,337.57 L492.8,337.58 L493.3,337.59 L493.8,337.59 L494.3,337.59 L494.8,337.6 L495.3,337.6 L495.8,337.6 L496.3,337.6 L496.8,337.6 L497.3,337.6 L497.8,337.6 L498.3,337.6 L498.8,337.6 L499.3,337.6 L499.8,337.6 L500.3,337.6 L500.8,337.6 L501.3,337.6 L501.8,337.6 L502.3,337.6 L502.8,337.6 L503.3,337.6 L503.8,337.6 L504.3,337.6 L504.8,337.6 L505.3,337.6 L505.8,337.6 L506.3,337.6 L506.8,337.6 L507.3,337.6 L507.8,337.6 L508.3,337.6 L508.8,337.6 L509.3,337.6 L509.8,337.6 L510.3,337.6 L510.8,337.6 L511.3,337.6 L511.8,337.6 L512.3,337.6 L512.8,337.6 L513.3,337.6 L513.8,337.6 L514.3,337.6 L514.8,337.6 L515.3,337.6 L515.8,337.6 L516.3,337.6 L516.8,337.6 L517.3,337.6 L517.8,337.6 L518.3,337.6 L518.8,337.6 L519.3,337.6 L519.8,337.6 L520.3,337.6 L520.8,337.6 L521.3,337.6 L521.8,337.6 L522.3,337.6 L522.8,337.6 L523.3,337.6 L523.8,337.6 L524.3,337.6 L524.8,337.6 L525.3,337.6 L525.8,337.6 L526.3,337.6 L526.8,337.6 L527.3,337.6 L527.8,337.6 L528.3,337.6 L528.8,337.6 L529.3,337.6 L529.8,337.6 L530.3,337.6 L530.8,337.6 L531.3,337.6 L531.8,337.6 L532.3,337.6 L532.8,337.6 L533.3,337.6 L533.8,337.6 L534.3,337.6 L534.8,337.6 L535.3,337.6" fill="none" stroke="#f29a38" stroke-width="1.6" stroke-linejoin="round" stroke-dasharray="3.9 2.3" />
<path d="M305.8,337.29 L306.3,337.29 L306.8,337.29 L307.3,337.29 L307.8,337.28 L308.3,337.28 L308.8,337.28 L309.3,337.28 L309.8,337.27 L310.3,337.27 L310.8,337.27 L311.3,337.27 L311.8,337.26 L312.3,337.26 L312.8,337.26 L313.3,337.26 L313.8,337.25 L314.3,337.25 L314.8,337.25 L315.3,337.25 L315.8,337.24 L316.3,337.24 L316.8,337.24 L317.3,337.23 L317.8,337.23 L318.3,337.23 L318.8,337.22 L319.3,337.22 L319.8,337.22 L320.3,337.21 L320.8,337.21 L321.3,337.21 L321.8,337.2 L322.3,337.2 L322.8,337.2 L323.3,337.19 L323.8,337.19 L324.3,337.19 L324.8,337.18 L325.3,337.18 L325.8,337.18 L326.3,337.17 L326.8,337.17 L327.3,337.16 L327.8,337.16 L328.3,337.16 L328.8,337.15 L329.3,337.15 L329.8,337.14 L330.3,337.14 L330.8,337.14 L331.3,337.13 L331.8,337.13 L332.3,337.12 L332.8,337.12 L333.3,337.11 L333.8,337.11 L334.3,337.1 L334.8,337.1 L335.3,337.09 L335.8,337.09 L336.3,337.08 L336.8,337.08 L337.3,337.07 L337.8,337.07 L338.3,337.06 L338.8,337.06 L339.3,337.05 L339.8,337.05 L340.3,337.04 L340.8,337.04 L341.3,337.03 L341.8,337.02 L342.3,337.02 L342.8,337.01 L343.3,337.01 L343.8,337 L344.3,336.99 L344.8,336.99 L345.3,336.98 L345.8,336.97 L346.3,336.97 L346.8,336.96 L347.3,336.95 L347.8,336.94 L348.3,336.94 L348.8,336.93 L349.3,336.92 L349.8,336.92 L350.3,336.91 L350.8,336.9 L351.3,336.89 L351.8,336.88 L352.3,336.87 L352.8,336.87 L353.3,336.86 L353.8,336.85 L354.3,336.84 L354.8,336.83 L355.3,336.82 L355.8,336.81 L356.3,336.8 L356.8,336.79 L357.3,336.78 L357.8,336.77 L358.3,336.76 L358.8,336.75 L359.3,336.74 L359.8,336.73 L360.3,336.72 L360.8,336.71 L361.3,336.7 L361.8,336.69 L362.3,336.67 L362.8,336.66 L363.3,336.65 L363.8,336.64 L364.3,336.62 L364.8,336.61 L365.3,336.6 L365.8,336.58 L366.3,336.57 L366.8,336.55 L367.3,336.54 L367.8,336.52 L368.3,336.51 L368.8,336.49 L369.3,336.48 L369.8,336.46 L370.3,336.45 L370.8,336.43 L371.3,336.41 L371.8,336.39 L372.3,336.38 L372.8,336.36 L373.3,336.34 L373.8,336.32 L374.3,336.3 L374.8,336.28 L375.3,336.26 L375.8,336.24 L376.3,336.22 L376.8,336.19 L377.3,336.17 L377.8,336.15 L378.3,336.12 L378.8,336.1 L379.3,336.07 L379.8,336.05 L380.3,336.02 L380.8,336 L381.3,335.97 L381.8,335.94 L382.3,335.91 L382.8,335.88 L383.3,335.85 L383.8,335.82 L384.3,335.79 L384.8,335.76 L385.3,335.72 L385.8,335.69 L386.3,335.65 L386.8,335.61 L387.3,335.58 L387.8,335.54 L388.3,335.5 L388.8,335.46 L389.3,335.42 L389.8,335.37 L390.3,335.33 L390.8,335.28 L391.3,335.23 L391.8,335.19 L392.3,335.14 L392.8,335.08 L393.3,335.03 L393.8,334.98 L394.3,334.92 L394.8,334.86 L395.3,334.8 L395.8,334.74 L396.3,334.67 L396.8,334.61 L397.3,334.54 L397.8,334.47 L398.3,334.4 L398.8,334.32 L399.3,334.24 L399.8,334.16 L400.3,334.08 L400.8,333.99 L401.3,333.9 L401.8,333.81 L402.3,333.71 L402.8,333.61 L403.3,333.51 L403.8,333.4 L404.3,333.29 L404.8,333.17 L405.3,333.05 L405.8,332.93 L406.3,332.8 L406.8,332.66 L407.3,332.52 L407.8,332.38 L408.3,332.22 L408.8,332.07 L409.3,331.9 L409.8,331.73 L410.3,331.55 L410.8,331.37 L411.3,331.17 L411.8,330.97 L412.3,330.76 L412.8,330.54 L413.3,330.31 L413.8,330.07 L414.3,329.82 L414.8,329.56 L415.3,329.29 L415.8,329 L416.3,328.71 L416.8,328.4 L417.3,328.07 L417.8,327.73 L418.3,327.38 L418.8,327.01 L419.3,326.62 L419.8,326.22 L420.3,325.8 L420.8,325.36 L421.3,324.91 L421.8,324.43 L422.3,323.93 L422.8,323.42 L423.3,322.88 L423.8,322.33 L424.3,321.75 L424.8,321.16 L425.3,320.55 L425.8,319.92 L426.3,319.27 L426.8,318.61 L427.3,317.93 L427.8,317.25 L428.3,316.55 L428.8,315.86 L429.3,315.16 L429.8,314.47 L430.3,313.79 L430.8,313.12 L431.3,312.47 L431.8,311.85 L432.3,311.27 L432.8,310.73 L433.3,310.24 L433.8,309.8 L434.3,309.42 L434.8,309.11 L435.3,308.87 L435.8,308.7 L436.3,308.61 L436.8,308.61 L437.3,308.68 L437.8,308.83 L438.3,309.05 L438.8,309.35 L439.3,309.72 L439.8,310.14 L440.3,310.63 L440.8,311.16 L441.3,311.74 L441.8,312.35 L442.3,312.99 L442.8,313.65 L443.3,314.33 L443.8,315.02 L444.3,315.72 L444.8,316.42 L445.3,317.11 L445.8,317.8 L446.3,318.47 L446.8,319.14 L447.3,319.79 L447.8,320.42 L448.3,321.04 L448.8,321.64 L449.3,322.22 L449.8,322.77 L450.3,323.31 L450.8,323.83 L451.3,324.33 L451.8,324.81 L452.3,325.27 L452.8,325.71 L453.3,326.14 L453.8,326.55 L454.3,326.93 L454.8,327.31 L455.3,327.66 L455.8,328.01 L456.3,328.33 L456.8,328.65 L457.3,328.95 L457.8,329.23 L458.3,329.51 L458.8,329.77 L459.3,330.02 L459.8,330.26 L460.3,330.5 L460.8,330.72 L461.3,330.93 L461.8,331.13 L462.3,331.33 L462.8,331.52 L463.3,331.7 L463.8,331.87 L464.3,332.03 L464.8,332.19 L465.3,332.35 L465.8,332.49 L466.3,332.63 L466.8,332.77 L467.3,332.9 L467.8,333.03 L468.3,333.15 L468.8,333.26 L469.3,333.38 L469.8,333.49 L470.3,333.59 L470.8,333.69 L471.3,333.79 L471.8,333.88 L472.3,333.97 L472.8,334.06 L473.3,334.14 L473.8,334.23 L474.3,334.3 L474.8,334.38 L475.3,334.45 L475.8,334.53 L476.3,334.59 L476.8,334.66 L477.3,334.73 L477.8,334.79 L478.3,334.85 L478.8,334.91 L479.3,334.96 L479.8,335.02 L480.3,335.07 L480.8,335.13 L481.3,335.18 L481.8,335.22 L482.3,335.27 L482.8,335.32 L483.3,335.36 L483.8,335.41 L484.3,335.45 L484.8,335.49 L485.3,335.53 L485.8,335.57 L486.3,335.61 L486.8,335.64 L487.3,335.68 L487.8,335.71 L488.3,335.75 L488.8,335.78 L489.3,335.81 L489.8,335.85 L490.3,335.88 L490.8,335.91 L491.3,335.94 L491.8,335.96 L492.3,335.99 L492.8,336.02 L493.3,336.04 L493.8,336.07 L494.3,336.09 L494.8,336.12 L495.3,336.14 L495.8,336.17 L496.3,336.19 L496.8,336.21 L497.3,336.23 L497.8,336.25 L498.3,336.28 L498.8,336.3 L499.3,336.32 L499.8,336.33 L500.3,336.35 L500.8,336.37 L501.3,336.39 L501.8,336.41 L502.3,336.43 L502.8,336.44 L503.3,336.46 L503.8,336.48 L504.3,336.49 L504.8,336.51 L505.3,336.52 L505.8,336.54 L506.3,336.55 L506.8,336.57 L507.3,336.58 L507.8,336.59 L508.3,336.61 L508.8,336.62 L509.3,336.63 L509.8,336.65 L510.3,336.66 L510.8,336.67 L511.3,336.68 L511.8,336.69 L512.3,336.71 L512.8,336.72 L513.3,336.73 L513.8,336.74 L514.3,336.75 L514.8,336.76 L515.3,336.77 L515.8,336.78 L516.3,336.79 L516.8,336.8 L517.3,336.81 L517.8,336.82 L518.3,336.83 L518.8,336.84 L519.3,336.85 L519.8,336.86 L520.3,336.86 L520.8,336.87 L521.3,336.88 L521.8,336.89 L522.3,336.9 L522.8,336.91 L523.3,336.91 L523.8,336.92 L524.3,336.93 L524.8,336.94 L525.3,336.94 L525.8,336.95 L526.3,336.96 L526.8,336.96 L527.3,336.97 L527.8,336.98 L528.3,336.98 L528.8,336.99 L529.3,337 L529.8,337 L530.3,337.01 L530.8,337.02 L531.3,337.02 L531.8,337.03 L532.3,337.03 L532.8,337.04 L533.3,337.05 L533.8,337.05 L534.3,337.06 L534.8,337.06 L535.3,337.07" fill="none" stroke="#22e022" stroke-width="1.6" stroke-linejoin="round" stroke-dasharray="3.9 2.3" />
<path d="M305.8,337.29 L306.3,337.29 L306.8,337.29 L307.3,337.29 L307.8,337.28 L308.3,337.28 L308.8,337.28 L309.3,337.28 L309.8,337.27 L310.3,337.27 L310.8,337.27 L311.3,337.27 L311.8,337.26 L312.3,337.26 L312.8,337.26 L313.3,337.26 L313.8,337.25 L314.3,337.25 L314.8,337.25 L315.3,337.25 L315.8,337.24 L316.3,337.24 L316.8,337.24 L317.3,337.23 L317.8,337.23 L318.3,337.23 L318.8,337.22 L319.3,337.22 L319.8,337.22 L320.3,337.21 L320.8,337.21 L321.3,337.21 L321.8,337.2 L322.3,337.2 L322.8,337.2 L323.3,337.19 L323.8,337.19 L324.3,337.19 L324.8,337.18 L325.3,337.18 L325.8,337.18 L326.3,337.17 L326.8,337.17 L327.3,337.16 L327.8,337.16 L328.3,337.16 L328.8,337.15 L329.3,337.15 L329.8,337.14 L330.3,337.14 L330.8,337.14 L331.3,337.13 L331.8,337.13 L332.3,337.12 L332.8,337.12 L333.3,337.11 L333.8,337.11 L334.3,337.1 L334.8,337.1 L335.3,337.09 L335.8,337.09 L336.3,337.08 L336.8,337.08 L337.3,337.07 L337.8,337.07 L338.3,337.06 L338.8,337.06 L339.3,337.05 L339.8,337.05 L340.3,337.04 L340.8,337.04 L341.3,337.03 L341.8,337.02 L342.3,337.02 L342.8,337.01 L343.3,337.01 L343.8,337 L344.3,336.99 L344.8,336.99 L345.3,336.98 L345.8,336.97 L346.3,336.97 L346.8,336.96 L347.3,336.95 L347.8,336.94 L348.3,336.94 L348.8,336.93 L349.3,336.92 L349.8,336.92 L350.3,336.91 L350.8,336.9 L351.3,336.89 L351.8,336.88 L352.3,336.87 L352.8,336.87 L353.3,336.86 L353.8,336.85 L354.3,336.84 L354.8,336.83 L355.3,336.82 L355.8,336.81 L356.3,336.8 L356.8,336.79 L357.3,336.78 L357.8,336.77 L358.3,336.76 L358.8,336.75 L359.3,336.74 L359.8,336.73 L360.3,336.72 L360.8,336.71 L361.3,336.7 L361.8,336.69 L362.3,336.67 L362.8,336.66 L363.3,336.65 L363.8,336.64 L364.3,336.62 L364.8,336.61 L365.3,336.6 L365.8,336.58 L366.3,336.57 L366.8,336.55 L367.3,336.54 L367.8,336.52 L368.3,336.51 L368.8,336.49 L369.3,336.48 L369.8,336.46 L370.3,336.45 L370.8,336.43 L371.3,336.41 L371.8,336.39 L372.3,336.38 L372.8,336.36 L373.3,336.34 L373.8,336.32 L374.3,336.3 L374.8,336.28 L375.3,336.26 L375.8,336.24 L376.3,336.22 L376.8,336.19 L377.3,336.17 L377.8,336.15 L378.3,336.12 L378.8,336.1 L379.3,336.07 L379.8,336.05 L380.3,336.02 L380.8,336 L381.3,335.97 L381.8,335.94 L382.3,335.91 L382.8,335.88 L383.3,335.85 L383.8,335.82 L384.3,335.79 L384.8,335.76 L385.3,335.72 L385.8,335.69 L386.3,335.65 L386.8,335.61 L387.3,335.58 L387.8,335.54 L388.3,335.5 L388.8,335.46 L389.3,335.42 L389.8,335.37 L390.3,335.33 L390.8,335.28 L391.3,335.23 L391.8,335.19 L392.3,335.14 L392.8,335.08 L393.3,335.03 L393.8,334.98 L394.3,334.92 L394.8,334.86 L395.3,334.8 L395.8,334.74 L396.3,334.67 L396.8,334.61 L397.3,334.54 L397.8,334.47 L398.3,334.4 L398.8,334.32 L399.3,334.24 L399.8,334.16 L400.3,334.08 L400.8,333.99 L401.3,333.9 L401.8,333.81 L402.3,333.71 L402.8,333.61 L403.3,333.51 L403.8,333.4 L404.3,333.29 L404.8,333.17 L405.3,333.05 L405.8,332.93 L406.3,332.8 L406.8,332.66 L407.3,332.52 L407.8,332.38 L408.3,332.22 L408.8,332.07 L409.3,331.9 L409.8,331.73 L410.3,331.55 L410.8,331.37 L411.3,331.17 L411.8,330.97 L412.3,330.76 L412.8,330.54 L413.3,330.31 L413.8,330.07 L414.3,329.82 L414.8,329.56 L415.3,329.29 L415.8,329 L416.3,328.71 L416.8,328.4 L417.3,328.07 L417.8,327.73 L418.3,327.38 L418.8,327.01 L419.3,326.62 L419.8,326.22 L420.3,325.8 L420.8,325.36 L421.3,324.91 L421.8,324.43 L422.3,323.93 L422.8,323.42 L423.3,322.88 L423.8,322.33 L424.3,321.75 L424.8,321.16 L425.3,320.55 L425.8,319.92 L426.3,319.27 L426.8,318.61 L427.3,317.93 L427.8,317.25 L428.3,316.55 L428.8,315.86 L429.3,315.16 L429.8,314.47 L430.3,313.79 L430.8,313.12 L431.3,312.47 L431.8,311.85 L432.3,311.27 L432.8,310.73 L433.3,310.24 L433.8,309.8 L434.3,309.42 L434.8,309.11 L435.3,308.87 L435.8,308.7 L436.3,308.61 L436.8,308.61 L437.3,308.68 L437.8,308.83 L438.3,309.05 L438.8,309.35 L439.3,309.72 L439.8,310.14 L440.3,310.63 L440.8,311.16 L441.3,311.74 L441.8,312.35 L442.3,312.99 L442.8,313.65 L443.3,314.33 L443.8,315.02 L444.3,315.72 L444.8,316.42 L445.3,317.11 L445.8,317.8 L446.3,318.47 L446.8,319.14 L447.3,319.79 L447.8,320.42 L448.3,321.04 L448.8,321.64 L449.3,322.21 L449.8,322.77 L450.3,323.31 L450.8,323.83 L451.3,324.33 L451.8,324.8 L452.3,325.26 L452.8,325.69 L453.3,326.11 L453.8,326.5 L454.3,326.88 L454.8,327.22 L455.3,327.55 L455.8,327.85 L456.3,328.12 L456.8,328.36 L457.3,328.56 L457.8,328.72 L458.3,328.83 L458.8,328.89 L459.3,328.89 L459.8,328.81 L460.3,328.66 L460.8,328.42 L461.3,328.07 L461.8,327.61 L462.3,327.03 L462.8,326.32 L463.3,325.48 L463.8,324.49 L464.3,323.36 L464.8,322.09 L465.3,320.68 L465.8,319.16 L466.3,317.53 L466.8,315.81 L467.3,314.04 L467.8,312.24 L468.3,310.45 L468.8,308.72 L469.3,307.07 L469.8,305.54 L470.3,304.19 L470.8,303.04 L471.3,302.13 L471.8,301.49 L472.3,301.12 L472.8,301.06 L473.3,301.3 L473.8,301.83 L474.3,302.65 L474.8,303.73 L475.3,305.06 L475.8,306.58 L476.3,308.28 L476.8,310.11 L477.3,312.03 L477.8,314 L478.3,315.99 L478.8,317.95 L479.3,319.86 L479.8,321.68 L480.3,323.41 L480.8,325.02 L481.3,326.5 L481.8,327.85 L482.3,329.05 L482.8,330.13 L483.3,331.07 L483.8,331.88 L484.3,332.59 L484.8,333.19 L485.3,333.7 L485.8,334.12 L486.3,334.47 L486.8,334.76 L487.3,335 L487.8,335.2 L488.3,335.36 L488.8,335.49 L489.3,335.6 L489.8,335.69 L490.3,335.76 L490.8,335.82 L491.3,335.88 L491.8,335.92 L492.3,335.96 L492.8,336 L493.3,336.03 L493.8,336.06 L494.3,336.09 L494.8,336.12 L495.3,336.14 L495.8,336.16 L496.3,336.19 L496.8,336.21 L497.3,336.23 L497.8,336.25 L498.3,336.27 L498.8,336.3 L499.3,336.32 L499.8,336.33 L500.3,336.35 L500.8,336.37 L501.3,336.39 L501.8,336.41 L502.3,336.43 L502.8,336.44 L503.3,336.46 L503.8,336.48 L504.3,336.49 L504.8,336.51 L505.3,336.52 L505.8,336.54 L506.3,336.55 L506.8,336.57 L507.3,336.58 L507.8,336.59 L508.3,336.61 L508.8,336.62 L509.3,336.63 L509.8,336.65 L510.3,336.66 L510.8,336.67 L511.3,336.68 L511.8,336.69 L512.3,336.71 L512.8,336.72 L513.3,336.73 L513.8,336.74 L514.3,336.75 L514.8,336.76 L515.3,336.77 L515.8,336.78 L516.3,336.79 L516.8,336.8 L517.3,336.81 L517.8,336.82 L518.3,336.83 L518.8,336.84 L519.3,336.85 L519.8,336.86 L520.3,336.86 L520.8,336.87 L521.3,336.88 L521.8,336.89 L522.3,336.9 L522.8,336.91 L523.3,336.91 L523.8,336.92 L524.3,336.93 L524.8,336.94 L525.3,336.94 L525.8,336.95 L526.3,336.96 L526.8,336.96 L527.3,336.97 L527.8,336.98 L528.3,336.98 L528.8,336.99 L529.3,337 L529.8,337 L530.3,337.01 L530.8,337.02 L531.3,337.02 L531.8,337.03 L532.3,337.03 L532.8,337.04 L533.3,337.05 L533.8,337.05 L534.3,337.06 L534.8,337.06 L535.3,337.07" fill="none" stroke="#ff0000" stroke-width="1.6" stroke-linejoin="round" stroke-dasharray="3.9 2.3" />
<path d="M305.8,337.48 L306.3,337.48 L306.8,337.35 L307.3,337.53 L307.8,337.49 L308.3,337.41 L308.8,337.57 L309.3,337.58 L309.8,337.48 L310.3,337.39 L310.8,337.48 L311.3,337.37 L311.8,337.38 L312.3,337.47 L312.8,337.36 L313.3,337.47 L313.8,337.49 L314.3,337.35 L314.8,337.52 L315.3,337.36 L315.8,337.55 L316.3,337.56 L316.8,337.48 L317.3,337.34 L317.8,337.48 L318.3,337.44 L318.8,337.61 L319.3,337.36 L319.8,337.58 L320.3,337.62 L320.8,337.54 L321.3,337.56 L321.8,337.38 L322.3,337.61 L322.8,337.46 L323.3,337.6 L323.8,337.59 L324.3,337.36 L324.8,337.55 L325.3,337.59 L325.8,337.33 L326.3,337.41 L326.8,337.53 L327.3,337.35 L327.8,337.57 L328.3,337.38 L328.8,337.54 L329.3,337.34 L329.8,337.45 L330.3,337.57 L330.8,337.36 L331.3,337.37 L331.8,337.44 L332.3,337.38 L332.8,337.3 L333.3,337.34 L333.8,337.33 L334.3,337.56 L334.8,337.48 L335.3,337.55 L335.8,337.33 L336.3,337.51 L336.8,337.31 L337.3,337.43 L337.8,337.46 L338.3,337.37 L338.8,337.53 L339.3,337.43 L339.8,337.43 L340.3,337.52 L340.8,337.28 L341.3,337.55 L341.8,337.44 L342.3,337.36 L342.8,337.48 L343.3,337.32 L343.8,337.53 L344.3,337.41 L344.8,337.34 L345.3,337.46 L345.8,337.36 L346.3,337.27 L346.8,337.44 L347.3,337.23 L347.8,337.45 L348.3,337.28 L348.8,337.39 L349.3,337.49 L349.8,337.37 L350.3,337.38 L350.8,337.27 L351.3,337.18 L351.8,337.18 L352.3,337.21 L352.8,337.34 L353.3,337.28 L353.8,337.3 L354.3,337.41 L354.8,337.17 L355.3,337.19 L355.8,337.31 L356.3,337.12 L356.8,337.1 L357.3,337.2 L357.8,337.12 L358.3,337.18 L358.8,337.14 L359.3,337.23 L359.8,337.23 L360.3,337.1 L360.8,337.21 L361.3,337.16 L361.8,337.05 L362.3,337.27 L362.8,337.05 L363.3,337.01 L363.8,336.98 L364.3,337.13 L364.8,337.19 L365.3,337.15 L365.8,337.02 L366.3,336.96 L366.8,336.87 L367.3,337.04 L367.8,337 L368.3,336.91 L368.8,336.98 L369.3,336.9 L369.8,337.03 L370.3,336.95 L370.8,336.78 L371.3,336.95 L371.8,336.67 L372.3,336.79 L372.8,336.73 L373.3,336.65 L373.8,336.57 L374.3,336.76 L374.8,336.5 L375.3,336.63 L375.8,336.72 L376.3,336.44 L376.8,336.43 L377.3,336.52 L377.8,336.45 L378.3,336.45 L378.8,336.47 L379.3,336.24 L379.8,336.24 L380.3,336.19 L380.8,336.08 L381.3,336.28 L381.8,336.21 L382.3,336.14 L382.8,335.88 L383.3,336.08 L383.8,336 L384.3,335.87 L384.8,335.9 L385.3,335.76 L385.8,335.63 L386.3,335.54 L386.8,335.52 L387.3,335.4 L387.8,335.43 L388.3,335.49 L388.8,335.41 L389.3,335.39 L389.8,335.29 L390.3,335.08 L390.8,335.1 L391.3,334.99 L391.8,335.03 L392.3,334.87 L392.8,334.72 L393.3,334.75 L393.8,334.77 L394.3,334.47 L394.8,334.58 L395.3,334.24 L395.8,334.23 L396.3,334.13 L396.8,334.2 L397.3,334.17 L397.8,334.02 L398.3,333.8 L398.8,333.87 L399.3,333.61 L399.8,333.48 L400.3,333.58 L400.8,333.4 L401.3,333.32 L401.8,333.2 L402.3,333.19 L402.8,332.93 L403.3,332.93 L403.8,332.78 L404.3,332.71 L404.8,332.47 L405.3,332.44 L405.8,332.27 L406.3,332.07 L406.8,331.92 L407.3,331.92 L407.8,331.63 L408.3,331.75 L408.8,331.39 L409.3,331.22 L409.8,331.1 L410.3,331.21 L410.8,330.89 L411.3,330.68 L411.8,330.5 L412.3,330.35 L412.8,330.39 L413.3,330.21 L413.8,330.06 L414.3,329.91 L414.8,329.53 L415.3,329.51 L415.8,329.25 L416.3,329.19 L416.8,328.99 L417.3,328.81 L417.8,328.34 L418.3,328.36 L418.8,328.14 L419.3,327.9 L419.8,327.39 L420.3,327.15 L420.8,326.84 L421.3,326.51 L421.8,326.44 L422.3,326.09 L422.8,325.68 L423.3,325.36 L423.8,324.9 L424.3,324.37 L424.8,323.86 L425.3,323.37 L425.8,323.04 L426.3,322.32 L426.8,321.76 L427.3,321.16 L427.8,320.36 L428.3,319.71 L428.8,318.95 L429.3,318.28 L429.8,317.32 L430.3,316.42 L430.8,315.68 L431.3,314.6 L431.8,313.74 L432.3,312.71 L432.8,311.59 L433.3,310.8 L433.8,309.97 L434.3,309.33 L434.8,308.58 L435.3,308.2 L435.8,307.83 L436.3,307.58 L436.8,307.81 L437.3,307.78 L437.8,308.38 L438.3,308.7 L438.8,309.3 L439.3,310.1 L439.8,311.08 L440.3,312.01 L440.8,312.6 L441.3,313.63 L441.8,314.49 L442.3,315.42 L442.8,316.04 L443.3,316.89 L443.8,317.55 L444.3,318.35 L444.8,318.77 L445.3,319.53 L445.8,319.83 L446.3,320.25 L446.8,320.8 L447.3,321.1 L447.8,321.3 L448.3,321.74 L448.8,321.82 L449.3,322.25 L449.8,322.42 L450.3,322.61 L450.8,322.71 L451.3,322.76 L451.8,322.89 L452.3,322.98 L452.8,323.22 L453.3,323.07 L453.8,323.38 L454.3,323.2 L454.8,323.32 L455.3,323.41 L455.8,323.67 L456.3,323.61 L456.8,323.64 L457.3,323.85 L457.8,323.7 L458.3,323.81 L458.8,323.86 L459.3,323.94 L459.8,323.92 L460.3,323.84 L460.8,323.65 L461.3,323.5 L461.8,323.24 L462.3,323.15 L462.8,322.72 L463.3,322.27 L463.8,321.5 L464.3,320.87 L464.8,320.12 L465.3,319.08 L465.8,317.81 L466.3,316.65 L466.8,315.39 L467.3,313.68 L467.8,312.06 L468.3,310.42 L468.8,308.83 L469.3,307.18 L469.8,305.33 L470.3,303.82 L470.8,302.53 L471.3,301.5 L471.8,300.84 L472.3,300.4 L472.8,300.54 L473.3,301.02 L473.8,302.19 L474.3,303.41 L474.8,304.83 L475.3,306.93 L475.8,308.68 L476.3,310.86 L476.8,313.19 L477.3,315.26 L477.8,317.32 L478.3,319.22 L478.8,321.03 L479.3,322.92 L479.8,324.38 L480.3,325.88 L480.8,327.26 L481.3,328.33 L481.8,329.48 L482.3,330.51 L482.8,331.27 L483.3,331.89 L483.8,332.52 L484.3,332.97 L484.8,333.3 L485.3,333.81 L485.8,334.06 L486.3,334.42 L486.8,334.7 L487.3,334.76 L487.8,334.97 L488.3,335.18 L488.8,335.21 L489.3,335.28 L489.8,335.53 L490.3,335.68 L490.8,335.74 L491.3,335.8 L491.8,335.92 L492.3,335.94 L492.8,336 L493.3,336.01 L493.8,336.02 L494.3,336.17 L494.8,336.07 L495.3,336.21 L495.8,336.37 L496.3,336.39 L496.8,336.41 L497.3,336.34 L497.8,336.43 L498.3,336.47 L498.8,336.56 L499.3,336.53 L499.8,336.64 L500.3,336.75 L500.8,336.55 L501.3,336.72 L501.8,336.78 L502.3,336.69 L502.8,336.75 L503.3,336.92 L503.8,336.66 L504.3,336.83 L504.8,336.74 L505.3,336.94 L505.8,337.01 L506.3,336.9 L506.8,336.79 L507.3,336.95 L507.8,336.96 L508.3,337.03 L508.8,336.98 L509.3,337.03 L509.8,337.1 L510.3,337.02 L510.8,337 L511.3,337.18 L511.8,336.97 L512.3,337.12 L512.8,337.04 L513.3,337.17 L513.8,336.98 L514.3,337.25 L514.8,337.07 L515.3,336.99 L515.8,337.07 L516.3,337.11 L516.8,337.01 L517.3,337.14 L517.8,337.15 L518.3,337.24 L518.8,337.14 L519.3,337.12 L519.8,337.12 L520.3,337.28 L520.8,337.34 L521.3,337.23 L521.8,337.14 L522.3,337.32 L522.8,337.2 L523.3,337.16 L523.8,337.14 L524.3,337.34 L524.8,337.35 L525.3,337.3 L525.8,337.26 L526.3,337.29 L526.8,337.2 L527.3,337.42 L527.8,337.24 L528.3,337.33 L528.8,337.39 L529.3,337.4 L529.8,337.3 L530.3,337.25 L530.8,337.33 L531.3,337.2 L531.8,337.42 L532.3,337.28 L532.8,337.43 L533.3,337.26 L533.8,337.3 L534.3,337.26 L534.8,337.32 L535.3,337.25" fill="none" stroke="#ff0000" stroke-width="1.7" stroke-linejoin="round" />
<path d="M305.8,384.2 L306.3,384.2 L306.8,384.2 L307.3,384.2 L307.8,384.2 L308.3,384.2 L308.8,384.2 L309.3,384.2 L309.8,384.2 L310.3,384.2 L310.8,384.2 L311.3,384.2 L311.8,384.2 L312.3,384.2 L312.8,384.2 L313.3,384.2 L313.8,384.2 L314.3,384.2 L314.8,384.2 L315.3,384.2 L315.8,384.2 L316.3,384.2 L316.8,384.2 L317.3,384.2 L317.8,384.2 L318.3,384.2 L318.8,384.2 L319.3,384.2 L319.8,384.2 L320.3,384.2 L320.8,384.2 L321.3,384.2 L321.8,384.2 L322.3,384.2 L322.8,384.2 L323.3,384.2 L323.8,384.2 L324.3,384.2 L324.8,384.2 L325.3,384.2 L325.8,384.2 L326.3,384.2 L326.8,384.2 L327.3,384.2 L327.8,384.2 L328.3,384.2 L328.8,384.2 L329.3,384.2 L329.8,384.2 L330.3,384.2 L330.8,384.2 L331.3,384.2 L331.8,384.2 L332.3,384.2 L332.8,384.2 L333.3,384.2 L333.8,384.2 L334.3,384.2 L334.8,384.2 L335.3,384.2 L335.8,384.2 L336.3,384.2 L336.8,384.2 L337.3,384.2 L337.8,384.2 L338.3,384.2 L338.8,384.2 L339.3,384.2 L339.8,384.2 L340.3,384.2 L340.8,384.2 L341.3,384.2 L341.8,384.2 L342.3,384.2 L342.8,384.2 L343.3,384.2 L343.8,384.2 L344.3,384.2 L344.8,384.2 L345.3,384.2 L345.8,384.2 L346.3,384.2 L346.8,384.2 L347.3,384.2 L347.8,384.2 L348.3,384.2 L348.8,384.2 L349.3,384.2 L349.8,384.2 L350.3,384.2 L350.8,384.2 L351.3,384.2 L351.8,384.2 L352.3,384.2 L352.8,384.2 L353.3,384.2 L353.8,384.2 L354.3,384.2 L354.8,384.2 L355.3,384.2 L355.8,384.2 L356.3,384.2 L356.8,384.2 L357.3,384.2 L357.8,384.2 L358.3,384.2 L358.8,384.2 L359.3,384.2 L359.8,384.2 L360.3,384.2 L360.8,384.2 L361.3,384.2 L361.8,384.2 L362.3,384.2 L362.8,384.2 L363.3,384.2 L363.8,384.2 L364.3,384.2 L364.8,384.2 L365.3,384.2 L365.8,384.2 L366.3,384.2 L366.8,384.2 L367.3,384.2 L367.8,384.2 L368.3,384.2 L368.8,384.2 L369.3,384.2 L369.8,384.2 L370.3,384.2 L370.8,384.2 L371.3,384.2 L371.8,384.2 L372.3,384.2 L372.8,384.2 L373.3,384.2 L373.8,384.2 L374.3,384.2 L374.8,384.2 L375.3,384.2 L375.8,384.2 L376.3,384.2 L376.8,384.2 L377.3,384.2 L377.8,384.2 L378.3,384.2 L378.8,384.2 L379.3,384.2 L379.8,384.2 L380.3,384.2 L380.8,384.2 L381.3,384.2 L381.8,384.2 L382.3,384.2 L382.8,384.2 L383.3,384.2 L383.8,384.2 L384.3,384.2 L384.8,384.2 L385.3,384.2 L385.8,384.2 L386.3,384.2 L386.8,384.2 L387.3,384.2 L387.8,384.2 L388.3,384.2 L388.8,384.2 L389.3,384.2 L389.8,384.2 L390.3,384.2 L390.8,384.2 L391.3,384.2 L391.8,384.2 L392.3,384.2 L392.8,384.2 L393.3,384.2 L393.8,384.2 L394.3,384.2 L394.8,384.2 L395.3,384.2 L395.8,384.2 L396.3,384.2 L396.8,384.2 L397.3,384.2 L397.8,384.2 L398.3,384.2 L398.8,384.2 L399.3,384.2 L399.8,384.2 L400.3,384.2 L400.8,384.2 L401.3,384.2 L401.8,384.2 L402.3,384.2 L402.8,384.2 L403.3,384.2 L403.8,384.2 L404.3,384.2 L404.8,384.2 L405.3,384.2 L405.8,384.2 L406.3,384.2 L406.8,384.2 L407.3,384.2 L407.8,384.2 L408.3,384.2 L408.8,384.2 L409.3,384.2 L409.8,384.2 L410.3,384.2 L410.8,384.2 L411.3,384.2 L411.8,384.2 L412.3,384.2 L412.8,384.2 L413.3,384.2 L413.8,384.2 L414.3,384.2 L414.8,384.2 L415.3,384.2 L415.8,384.2 L416.3,384.2 L416.8,384.2 L417.3,384.2 L417.8,384.2 L418.3,384.2 L418.8,384.2 L419.3,384.2 L419.8,384.2 L420.3,384.2 L420.8,384.2 L421.3,384.2 L421.8,384.2 L422.3,384.2 L422.8,384.2 L423.3,384.2 L423.8,384.2 L424.3,384.2 L424.8,384.2 L425.3,384.2 L425.8,384.2 L426.3,384.2 L426.8,384.2 L427.3,384.2 L427.8,384.2 L428.3,384.2 L428.8,384.2 L429.3,384.2 L429.8,384.2 L430.3,384.2 L430.8,384.2 L431.3,384.2 L431.8,384.2 L432.3,384.2 L432.8,384.2 L433.3,384.2 L433.8,384.2 L434.3,384.2 L434.8,384.2 L435.3,384.2 L435.8,384.2 L436.3,384.2 L436.8,384.2 L437.3,384.2 L437.8,384.2 L438.3,384.2 L438.8,384.2 L439.3,384.2 L439.8,384.2 L440.3,384.2 L440.8,384.2 L441.3,384.2 L441.8,384.2 L442.3,384.2 L442.8,384.2 L443.3,384.2 L443.8,384.2 L444.3,384.2 L444.8,384.2 L445.3,384.2 L445.8,384.2 L446.3,384.2 L446.8,384.2 L447.3,384.2 L447.8,384.2 L448.3,384.2 L448.8,384.2 L449.3,384.2 L449.8,384.2 L450.3,384.2 L450.8,384.2 L451.3,384.2 L451.8,384.2 L452.3,384.19 L452.8,384.19 L453.3,384.19 L453.8,384.18 L454.3,384.17 L454.8,384.16 L455.3,384.14 L455.8,384.12 L456.3,384.09 L456.8,384.05 L457.3,384 L457.8,383.93 L458.3,383.84 L458.8,383.73 L459.3,383.58 L459.8,383.41 L460.3,383.19 L460.8,382.92 L461.3,382.59 L461.8,382.2 L462.3,381.73 L462.8,381.18 L463.3,380.55 L463.8,379.82 L464.3,378.98 L464.8,378.05 L465.3,377.01 L465.8,375.88 L466.3,374.65 L466.8,373.33 L467.3,371.94 L467.8,370.5 L468.3,369.03 L468.8,367.54 L469.3,366.07 L469.8,364.64 L470.3,363.29 L470.8,362.05 L471.3,360.94 L471.8,359.99 L472.3,359.22 L472.8,358.66 L473.3,358.32 L473.8,358.2 L474.3,358.32 L474.8,358.66 L475.3,359.22 L475.8,359.99 L476.3,360.94 L476.8,362.05 L477.3,363.29 L477.8,364.64 L478.3,366.07 L478.8,367.54 L479.3,369.03 L479.8,370.5 L480.3,371.94 L480.8,373.33 L481.3,374.65 L481.8,375.88 L482.3,377.01 L482.8,378.05 L483.3,378.98 L483.8,379.82 L484.3,380.55 L484.8,381.18 L485.3,381.73 L485.8,382.2 L486.3,382.59 L486.8,382.92 L487.3,383.19 L487.8,383.41 L488.3,383.58 L488.8,383.73 L489.3,383.84 L489.8,383.93 L490.3,384 L490.8,384.05 L491.3,384.09 L491.8,384.12 L492.3,384.14 L492.8,384.16 L493.3,384.17 L493.8,384.18 L494.3,384.19 L494.8,384.19 L495.3,384.19 L495.8,384.2 L496.3,384.2 L496.8,384.2 L497.3,384.2 L497.8,384.2 L498.3,384.2 L498.8,384.2 L499.3,384.2 L499.8,384.2 L500.3,384.2 L500.8,384.2 L501.3,384.2 L501.8,384.2 L502.3,384.2 L502.8,384.2 L503.3,384.2 L503.8,384.2 L504.3,384.2 L504.8,384.2 L505.3,384.2 L505.8,384.2 L506.3,384.2 L506.8,384.2 L507.3,384.2 L507.8,384.2 L508.3,384.2 L508.8,384.2 L509.3,384.2 L509.8,384.2 L510.3,384.2 L510.8,384.2 L511.3,384.2 L511.8,384.2 L512.3,384.2 L512.8,384.2 L513.3,384.2 L513.8,384.2 L514.3,384.2 L514.8,384.2 L515.3,384.2 L515.8,384.2 L516.3,384.2 L516.8,384.2 L517.3,384.2 L517.8,384.2 L518.3,384.2 L518.8,384.2 L519.3,384.2 L519.8,384.2 L520.3,384.2 L520.8,384.2 L521.3,384.2 L521.8,384.2 L522.3,384.2 L522.8,384.2 L523.3,384.2 L523.8,384.2 L524.3,384.2 L524.8,384.2 L525.3,384.2 L525.8,384.2 L526.3,384.2 L526.8,384.2 L527.3,384.2 L527.8,384.2 L528.3,384.2 L528.8,384.2 L529.3,384.2 L529.8,384.2 L530.3,384.2 L530.8,384.2 L531.3,384.2 L531.8,384.2 L532.3,384.2 L532.8,384.2 L533.3,384.2 L533.8,384.2 L534.3,384.2 L534.8,384.2 L535.3,384.2" fill="none" stroke="#f29a38" stroke-width="1.6" stroke-linejoin="round" stroke-dasharray="3.9 2.3" />
<path d="M305.8,384.2 L306.3,384.2 L306.8,384.2 L307.3,384.2 L307.8,384.2 L308.3,384.2 L308.8,384.2 L309.3,384.2 L309.8,384.2 L310.3,384.2 L310.8,384.2 L311.3,384.2 L311.8,384.2 L312.3,384.2 L312.8,384.2 L313.3,384.2 L313.8,384.2 L314.3,384.2 L314.8,384.2 L315.3,384.2 L315.8,384.2 L316.3,384.2 L316.8,384.2 L317.3,384.2 L317.8,384.2 L318.3,384.2 L318.8,384.2 L319.3,384.2 L319.8,384.2 L320.3,384.2 L320.8,384.2 L321.3,384.2 L321.8,384.2 L322.3,384.2 L322.8,384.2 L323.3,384.2 L323.8,384.2 L324.3,384.2 L324.8,384.2 L325.3,384.2 L325.8,384.2 L326.3,384.2 L326.8,384.2 L327.3,384.2 L327.8,384.2 L328.3,384.2 L328.8,384.2 L329.3,384.2 L329.8,384.2 L330.3,384.2 L330.8,384.19 L331.3,384.19 L331.8,384.19 L332.3,384.19 L332.8,384.19 L333.3,384.19 L333.8,384.19 L334.3,384.19 L334.8,384.19 L335.3,384.19 L335.8,384.19 L336.3,384.19 L336.8,384.19 L337.3,384.19 L337.8,384.18 L338.3,384.18 L338.8,384.18 L339.3,384.18 L339.8,384.18 L340.3,384.18 L340.8,384.18 L341.3,384.17 L341.8,384.17 L342.3,384.17 L342.8,384.17 L343.3,384.17 L343.8,384.16 L344.3,384.16 L344.8,384.16 L345.3,384.16 L345.8,384.15 L346.3,384.15 L346.8,384.14 L347.3,384.14 L347.8,384.14 L348.3,384.13 L348.8,384.13 L349.3,384.12 L349.8,384.12 L350.3,384.11 L350.8,384.11 L351.3,384.1 L351.8,384.09 L352.3,384.08 L352.8,384.08 L353.3,384.07 L353.8,384.06 L354.3,384.05 L354.8,384.04 L355.3,384.03 L355.8,384.02 L356.3,384.01 L356.8,384 L357.3,383.98 L357.8,383.97 L358.3,383.96 L358.8,383.94 L359.3,383.92 L359.8,383.91 L360.3,383.89 L360.8,383.87 L361.3,383.85 L361.8,383.83 L362.3,383.81 L362.8,383.79 L363.3,383.76 L363.8,383.74 L364.3,383.71 L364.8,383.68 L365.3,383.65 L365.8,383.62 L366.3,383.59 L366.8,383.55 L367.3,383.52 L367.8,383.48 L368.3,383.44 L368.8,383.4 L369.3,383.36 L369.8,383.31 L370.3,383.26 L370.8,383.22 L371.3,383.16 L371.8,383.11 L372.3,383.05 L372.8,383 L373.3,382.93 L373.8,382.87 L374.3,382.8 L374.8,382.73 L375.3,382.66 L375.8,382.59 L376.3,382.51 L376.8,382.43 L377.3,382.34 L377.8,382.26 L378.3,382.16 L378.8,382.07 L379.3,381.97 L379.8,381.87 L380.3,381.76 L380.8,381.65 L381.3,381.54 L381.8,381.42 L382.3,381.3 L382.8,381.18 L383.3,381.05 L383.8,380.91 L384.3,380.77 L384.8,380.63 L385.3,380.48 L385.8,380.33 L386.3,380.17 L386.8,380.01 L387.3,379.84 L387.8,379.67 L388.3,379.49 L388.8,379.31 L389.3,379.12 L389.8,378.93 L390.3,378.73 L390.8,378.53 L391.3,378.32 L391.8,378.1 L392.3,377.88 L392.8,377.66 L393.3,377.42 L393.8,377.19 L394.3,376.95 L394.8,376.7 L395.3,376.44 L395.8,376.18 L396.3,375.92 L396.8,375.65 L397.3,375.37 L397.8,375.09 L398.3,374.8 L398.8,374.51 L399.3,374.21 L399.8,373.91 L400.3,373.6 L400.8,373.29 L401.3,372.97 L401.8,372.65 L402.3,372.32 L402.8,371.98 L403.3,371.64 L403.8,371.3 L404.3,370.95 L404.8,370.6 L405.3,370.25 L405.8,369.89 L406.3,369.52 L406.8,369.15 L407.3,368.78 L407.8,368.41 L408.3,368.03 L408.8,367.65 L409.3,367.27 L409.8,366.88 L410.3,366.49 L410.8,366.1 L411.3,365.71 L411.8,365.32 L412.3,364.92 L412.8,364.53 L413.3,364.13 L413.8,363.74 L414.3,363.34 L414.8,362.94 L415.3,362.55 L415.8,362.15 L416.3,361.76 L416.8,361.37 L417.3,360.98 L417.8,360.59 L418.3,360.2 L418.8,359.82 L419.3,359.44 L419.8,359.06 L420.3,358.68 L420.8,358.31 L421.3,357.95 L421.8,357.59 L422.3,357.23 L422.8,356.88 L423.3,356.54 L423.8,356.2 L424.3,355.87 L424.8,355.54 L425.3,355.22 L425.8,354.91 L426.3,354.61 L426.8,354.31 L427.3,354.02 L427.8,353.74 L428.3,353.47 L428.8,353.21 L429.3,352.96 L429.8,352.72 L430.3,352.49 L430.8,352.26 L431.3,352.05 L431.8,351.85 L432.3,351.66 L432.8,351.48 L433.3,351.31 L433.8,351.15 L434.3,351.01 L434.8,350.87 L435.3,350.75 L435.8,350.64 L436.3,350.54 L436.8,350.46 L437.3,350.38 L437.8,350.32 L438.3,350.27 L438.8,350.24 L439.3,350.21 L439.8,350.2 L440.3,350.2 L440.8,350.21 L441.3,350.23 L441.8,350.26 L442.3,350.3 L442.8,350.35 L443.3,350.41 L443.8,350.47 L444.3,350.55 L444.8,350.63 L445.3,350.73 L445.8,350.83 L446.3,350.94 L446.8,351.06 L447.3,351.19 L447.8,351.33 L448.3,351.48 L448.8,351.63 L449.3,351.8 L449.8,351.97 L450.3,352.15 L450.8,352.33 L451.3,352.53 L451.8,352.73 L452.3,352.94 L452.8,353.16 L453.3,353.38 L453.8,353.61 L454.3,353.85 L454.8,354.1 L455.3,354.35 L455.8,354.6 L456.3,354.87 L456.8,355.13 L457.3,355.41 L457.8,355.69 L458.3,355.97 L458.8,356.26 L459.3,356.56 L459.8,356.85 L460.3,357.16 L460.8,357.46 L461.3,357.78 L461.8,358.09 L462.3,358.41 L462.8,358.73 L463.3,359.05 L463.8,359.38 L464.3,359.71 L464.8,360.04 L465.3,360.37 L465.8,360.71 L466.3,361.05 L466.8,361.39 L467.3,361.73 L467.8,362.07 L468.3,362.41 L468.8,362.75 L469.3,363.1 L469.8,363.44 L470.3,363.78 L470.8,364.13 L471.3,364.47 L471.8,364.81 L472.3,365.16 L472.8,365.5 L473.3,365.84 L473.8,366.18 L474.3,366.51 L474.8,366.85 L475.3,367.19 L475.8,367.52 L476.3,367.85 L476.8,368.18 L477.3,368.5 L477.8,368.83 L478.3,369.15 L478.8,369.47 L479.3,369.78 L479.8,370.1 L480.3,370.41 L480.8,370.72 L481.3,371.02 L481.8,371.32 L482.3,371.62 L482.8,371.91 L483.3,372.2 L483.8,372.49 L484.3,372.77 L484.8,373.05 L485.3,373.33 L485.8,373.6 L486.3,373.87 L486.8,374.13 L487.3,374.39 L487.8,374.65 L488.3,374.9 L488.8,375.14 L489.3,375.39 L489.8,375.63 L490.3,375.86 L490.8,376.09 L491.3,376.32 L491.8,376.54 L492.3,376.76 L492.8,376.97 L493.3,377.18 L493.8,377.39 L494.3,377.59 L494.8,377.79 L495.3,377.98 L495.8,378.17 L496.3,378.36 L496.8,378.54 L497.3,378.71 L497.8,378.89 L498.3,379.05 L498.8,379.22 L499.3,379.38 L499.8,379.54 L500.3,379.69 L500.8,379.84 L501.3,379.98 L501.8,380.13 L502.3,380.26 L502.8,380.4 L503.3,380.53 L503.8,380.66 L504.3,380.78 L504.8,380.9 L505.3,381.02 L505.8,381.13 L506.3,381.24 L506.8,381.35 L507.3,381.45 L507.8,381.56 L508.3,381.65 L508.8,381.75 L509.3,381.84 L509.8,381.93 L510.3,382.02 L510.8,382.1 L511.3,382.18 L511.8,382.26 L512.3,382.34 L512.8,382.41 L513.3,382.48 L513.8,382.55 L514.3,382.62 L514.8,382.68 L515.3,382.74 L515.8,382.8 L516.3,382.86 L516.8,382.92 L517.3,382.97 L517.8,383.02 L518.3,383.07 L518.8,383.12 L519.3,383.17 L519.8,383.21 L520.3,383.25 L520.8,383.3 L521.3,383.34 L521.8,383.37 L522.3,383.41 L522.8,383.45 L523.3,383.48 L523.8,383.51 L524.3,383.54 L524.8,383.57 L525.3,383.6 L525.8,383.63 L526.3,383.66 L526.8,383.68 L527.3,383.71 L527.8,383.73 L528.3,383.75 L528.8,383.77 L529.3,383.8 L529.8,383.81 L530.3,383.83 L530.8,383.85 L531.3,383.87 L531.8,383.89 L532.3,383.9 L532.8,383.92 L533.3,383.93 L533.8,383.94 L534.3,383.96 L534.8,383.97 L535.3,383.98" fill="none" stroke="#22e022" stroke-width="1.6" stroke-linejoin="round" stroke-dasharray="3.9 2.3" />
<path d="M305.8,384.2 L306.3,384.2 L306.8,384.2 L307.3,384.2 L307.8,384.2 L308.3,384.2 L308.8,384.2 L309.3,384.2 L309.8,384.2 L310.3,384.2 L310.8,384.2 L311.3,384.2 L311.8,384.2 L312.3,384.2 L312.8,384.2 L313.3,384.2 L313.8,384.2 L314.3,384.2 L314.8,384.2 L315.3,384.2 L315.8,384.2 L316.3,384.2 L316.8,384.2 L317.3,384.2 L317.8,384.2 L318.3,384.2 L318.8,384.2 L319.3,384.2 L319.8,384.2 L320.3,384.2 L320.8,384.2 L321.3,384.2 L321.8,384.2 L322.3,384.2 L322.8,384.2 L323.3,384.2 L323.8,384.2 L324.3,384.2 L324.8,384.2 L325.3,384.2 L325.8,384.2 L326.3,384.2 L326.8,384.2 L327.3,384.2 L327.8,384.2 L328.3,384.2 L328.8,384.2 L329.3,384.2 L329.8,384.2 L330.3,384.2 L330.8,384.19 L331.3,384.19 L331.8,384.19 L332.3,384.19 L332.8,384.19 L333.3,384.19 L333.8,384.19 L334.3,384.19 L334.8,384.19 L335.3,384.19 L335.8,384.19 L336.3,384.19 L336.8,384.19 L337.3,384.19 L337.8,384.18 L338.3,384.18 L338.8,384.18 L339.3,384.18 L339.8,384.18 L340.3,384.18 L340.8,384.18 L341.3,384.17 L341.8,384.17 L342.3,384.17 L342.8,384.17 L343.3,384.17 L343.8,384.16 L344.3,384.16 L344.8,384.16 L345.3,384.16 L345.8,384.15 L346.3,384.15 L346.8,384.14 L347.3,384.14 L347.8,384.14 L348.3,384.13 L348.8,384.13 L349.3,384.12 L349.8,384.12 L350.3,384.11 L350.8,384.11 L351.3,384.1 L351.8,384.09 L352.3,384.08 L352.8,384.08 L353.3,384.07 L353.8,384.06 L354.3,384.05 L354.8,384.04 L355.3,384.03 L355.8,384.02 L356.3,384.01 L356.8,384 L357.3,383.98 L357.8,383.97 L358.3,383.96 L358.8,383.94 L359.3,383.92 L359.8,383.91 L360.3,383.89 L360.8,383.87 L361.3,383.85 L361.8,383.83 L362.3,383.81 L362.8,383.79 L363.3,383.76 L363.8,383.74 L364.3,383.71 L364.8,383.68 L365.3,383.65 L365.8,383.62 L366.3,383.59 L366.8,383.55 L367.3,383.52 L367.8,383.48 L368.3,383.44 L368.8,383.4 L369.3,383.36 L369.8,383.31 L370.3,383.26 L370.8,383.22 L371.3,383.16 L371.8,383.11 L372.3,383.05 L372.8,383 L373.3,382.93 L373.8,382.87 L374.3,382.8 L374.8,382.73 L375.3,382.66 L375.8,382.59 L376.3,382.51 L376.8,382.43 L377.3,382.34 L377.8,382.26 L378.3,382.16 L378.8,382.07 L379.3,381.97 L379.8,381.87 L380.3,381.76 L380.8,381.65 L381.3,381.54 L381.8,381.42 L382.3,381.3 L382.8,381.18 L383.3,381.05 L383.8,380.91 L384.3,380.77 L384.8,380.63 L385.3,380.48 L385.8,380.33 L386.3,380.17 L386.8,380.01 L387.3,379.84 L387.8,379.67 L388.3,379.49 L388.8,379.31 L389.3,379.12 L389.8,378.93 L390.3,378.73 L390.8,378.53 L391.3,378.32 L391.8,378.1 L392.3,377.88 L392.8,377.66 L393.3,377.42 L393.8,377.19 L394.3,376.95 L394.8,376.7 L395.3,376.44 L395.8,376.18 L396.3,375.92 L396.8,375.65 L397.3,375.37 L397.8,375.09 L398.3,374.8 L398.8,374.51 L399.3,374.21 L399.8,373.91 L400.3,373.6 L400.8,373.29 L401.3,372.97 L401.8,372.65 L402.3,372.32 L402.8,371.98 L403.3,371.64 L403.8,371.3 L404.3,370.95 L404.8,370.6 L405.3,370.25 L405.8,369.89 L406.3,369.52 L406.8,369.15 L407.3,368.78 L407.8,368.41 L408.3,368.03 L408.8,367.65 L409.3,367.27 L409.8,366.88 L410.3,366.49 L410.8,366.1 L411.3,365.71 L411.8,365.32 L412.3,364.92 L412.8,364.53 L413.3,364.13 L413.8,363.74 L414.3,363.34 L414.8,362.94 L415.3,362.55 L415.8,362.15 L416.3,361.76 L416.8,361.37 L417.3,360.98 L417.8,360.59 L418.3,360.2 L418.8,359.82 L419.3,359.44 L419.8,359.06 L420.3,358.68 L420.8,358.31 L421.3,357.95 L421.8,357.59 L422.3,357.23 L422.8,356.88 L423.3,356.54 L423.8,356.2 L424.3,355.87 L424.8,355.54 L425.3,355.22 L425.8,354.91 L426.3,354.61 L426.8,354.31 L427.3,354.02 L427.8,353.74 L428.3,353.47 L428.8,353.21 L429.3,352.96 L429.8,352.72 L430.3,352.49 L430.8,352.26 L431.3,352.05 L431.8,351.85 L432.3,351.66 L432.8,351.48 L433.3,351.31 L433.8,351.15 L434.3,351.01 L434.8,350.87 L435.3,350.75 L435.8,350.64 L436.3,350.54 L436.8,350.46 L437.3,350.38 L437.8,350.32 L438.3,350.27 L438.8,350.24 L439.3,350.21 L439.8,350.2 L440.3,350.2 L440.8,350.21 L441.3,350.23 L441.8,350.26 L442.3,350.3 L442.8,350.35 L443.3,350.41 L443.8,350.47 L444.3,350.55 L444.8,350.63 L445.3,350.73 L445.8,350.83 L446.3,350.94 L446.8,351.06 L447.3,351.19 L447.8,351.33 L448.3,351.48 L448.8,351.63 L449.3,351.79 L449.8,351.97 L450.3,352.14 L450.8,352.33 L451.3,352.53 L451.8,352.73 L452.3,352.93 L452.8,353.15 L453.3,353.37 L453.8,353.6 L454.3,353.83 L454.8,354.06 L455.3,354.3 L455.8,354.53 L456.3,354.77 L456.8,355.01 L457.3,355.23 L457.8,355.46 L458.3,355.67 L458.8,355.86 L459.3,356.03 L459.8,356.18 L460.3,356.3 L460.8,356.37 L461.3,356.41 L461.8,356.39 L462.3,356.31 L462.8,356.16 L463.3,355.95 L463.8,355.65 L464.3,355.28 L464.8,354.81 L465.3,354.27 L465.8,353.64 L466.3,352.93 L466.8,352.15 L467.3,351.31 L467.8,350.42 L468.3,349.51 L468.8,348.59 L469.3,347.69 L469.8,346.82 L470.3,346.01 L470.8,345.3 L471.3,344.7 L471.8,344.23 L472.3,343.92 L472.8,343.79 L473.3,343.84 L473.8,344.08 L474.3,344.51 L474.8,345.14 L475.3,345.95 L475.8,346.94 L476.3,348.08 L476.8,349.35 L477.3,350.73 L477.8,352.2 L478.3,353.74 L478.8,355.31 L479.3,356.89 L479.8,358.45 L480.3,359.99 L480.8,361.48 L481.3,362.9 L481.8,364.25 L482.3,365.51 L482.8,366.68 L483.3,367.77 L483.8,368.76 L484.3,369.67 L484.8,370.49 L485.3,371.23 L485.8,371.9 L486.3,372.5 L486.8,373.04 L487.3,373.53 L487.8,373.97 L488.3,374.37 L488.8,374.74 L489.3,375.08 L489.8,375.4 L490.3,375.69 L490.8,375.96 L491.3,376.23 L491.8,376.47 L492.3,376.71 L492.8,376.94 L493.3,377.16 L493.8,377.37 L494.3,377.58 L494.8,377.78 L495.3,377.98 L495.8,378.17 L496.3,378.35 L496.8,378.53 L497.3,378.71 L497.8,378.89 L498.3,379.05 L498.8,379.22 L499.3,379.38 L499.8,379.54 L500.3,379.69 L500.8,379.84 L501.3,379.98 L501.8,380.13 L502.3,380.26 L502.8,380.4 L503.3,380.53 L503.8,380.66 L504.3,380.78 L504.8,380.9 L505.3,381.02 L505.8,381.13 L506.3,381.24 L506.8,381.35 L507.3,381.45 L507.8,381.56 L508.3,381.65 L508.8,381.75 L509.3,381.84 L509.8,381.93 L510.3,382.02 L510.8,382.1 L511.3,382.18 L511.8,382.26 L512.3,382.34 L512.8,382.41 L513.3,382.48 L513.8,382.55 L514.3,382.62 L514.8,382.68 L515.3,382.74 L515.8,382.8 L516.3,382.86 L516.8,382.92 L517.3,382.97 L517.8,383.02 L518.3,383.07 L518.8,383.12 L519.3,383.17 L519.8,383.21 L520.3,383.25 L520.8,383.3 L521.3,383.34 L521.8,383.37 L522.3,383.41 L522.8,383.45 L523.3,383.48 L523.8,383.51 L524.3,383.54 L524.8,383.57 L525.3,383.6 L525.8,383.63 L526.3,383.66 L526.8,383.68 L527.3,383.71 L527.8,383.73 L528.3,383.75 L528.8,383.77 L529.3,383.8 L529.8,383.81 L530.3,383.83 L530.8,383.85 L531.3,383.87 L531.8,383.89 L532.3,383.9 L532.8,383.92 L533.3,383.93 L533.8,383.94 L534.3,383.96 L534.8,383.97 L535.3,383.98" fill="none" stroke="#000" stroke-width="1.6" stroke-linejoin="round" stroke-dasharray="3.9 2.3" />
<path d="M305.8,384.08 L312.28,384.26 L321.65,384.16 L331.65,384.15 L340,384.15 L346.23,384.16 L351.51,384.11 L356.04,384.1 L360,384.04 L363.2,383.91 L365.62,384 L367.73,383.88 L370,383.49 L372.5,383.39 L375,383.05 L377.5,382.56 L380,381.81 L382.46,381.25 L384.89,380.34 L387.37,379.23 L390,378.18 L392.86,377.29 L395.89,376.02 L398.92,374.61 L401.8,373.1 L404.43,371.46 L406.91,369.68 L409.39,367.88 L412,365.76 L414.92,363.48 L418.04,361.22 L421.03,358.85 L423.6,356.72 L425.53,355.38 L427.04,354.11 L428.42,353.16 L430,352.24 L431.87,351.46 L433.85,350.72 L435.86,350.19 L437.8,349.73 L439.6,349.8 L441.31,349.94 L443.07,350.36 L445,350.79 L447.27,351.64 L449.78,352.55 L452.2,353.45 L454.2,354.14 L455.61,354.48 L456.64,354.74 L457.53,354.64 L458.5,354.59 L459.6,354.25 L460.71,353.92 L461.84,353.32 L463,352.51 L464.22,351.43 L465.49,349.78 L466.76,348.46 L468,346.99 L469.23,345.67 L470.46,344.31 L471.63,343.24 L472.7,342.57 L473.63,342.64 L474.46,343.29 L475.23,344.04 L476,345.53 L476.76,347.4 L477.48,349.6 L478.21,352.36 L479,355.04 L479.86,357.94 L480.77,360.87 L481.7,364.01 L482.6,366.5 L483.45,368.61 L484.28,370.51 L485.11,371.9 L486,373.55 L486.93,374.92 L487.9,376.11 L488.92,377.36 L490,378.27 L491.18,379.22 L492.44,380.06 L493.73,380.84 L495,381.33 L496.13,381.9 L497.19,382.31 L498.4,382.69 L500,383.08 L501.79,383.26 L503.72,383.67 L506.29,383.8 L510,384 L515.88,384.06 L523.38,384.16 L530.55,384.3 L535.5,384.24" fill="none" stroke="#000" stroke-width="1.7" stroke-linejoin="round" />
<rect x="305.3" y="230.1" width="230.7" height="157.7" fill="none" stroke="#000" stroke-width="1.5"/>
<line x1="305.3" y1="387.8" x2="305.3" y2="391.8" stroke="#000" stroke-width="1.2" />
<text transform="translate(305.3,401) scale(1.0,1.06)" font-family="'Liberation Sans', Arial, sans-serif" font-size="8.6" font-weight="bold" fill="#000" text-anchor="middle"  stroke="#000" stroke-width="0.25">500</text>
<line x1="343.75" y1="387.8" x2="343.75" y2="390" stroke="#000" stroke-width="1.2" />
<line x1="382.2" y1="387.8" x2="382.2" y2="391.8" stroke="#000" stroke-width="1.2" />
<text transform="translate(382.2,401) scale(1.0,1.06)" font-family="'Liberation Sans', Arial, sans-serif" font-size="8.6" font-weight="bold" fill="#000" text-anchor="middle"  stroke="#000" stroke-width="0.25">1000</text>
<line x1="420.65" y1="387.8" x2="420.65" y2="390" stroke="#000" stroke-width="1.2" />
<line x1="459.1" y1="387.8" x2="459.1" y2="391.8" stroke="#000" stroke-width="1.2" />
<text transform="translate(459.1,401) scale(1.0,1.06)" font-family="'Liberation Sans', Arial, sans-serif" font-size="8.6" font-weight="bold" fill="#000" text-anchor="middle"  stroke="#000" stroke-width="0.25">1500</text>
<line x1="497.55" y1="387.8" x2="497.55" y2="390" stroke="#000" stroke-width="1.2" />
<line x1="536" y1="387.8" x2="536" y2="391.8" stroke="#000" stroke-width="1.2" />
<text transform="translate(536,401) scale(1.0,1.06)" font-family="'Liberation Sans', Arial, sans-serif" font-size="8.6" font-weight="bold" fill="#000" text-anchor="middle"  stroke="#000" stroke-width="0.25">2000</text>
<path d="M307.5,256.2 L323.8,256.2" fill="none" stroke="#0000ff" stroke-width="1.8" stroke-linejoin="round" />
<text x="327.8" y="259.1" font-family="'Liberation Serif', 'Times New Roman', serif" font-size="7.6" font-weight="bold" fill="#000" text-anchor="start" stroke="#000" stroke-width="0.2">Experiment</text>
<path d="M307.5,265.9 L323.8,265.9" fill="none" stroke="#22e022" stroke-width="1.6" stroke-linejoin="round" stroke-dasharray="3.9 2.3" />
<text x="327.8" y="268.8" font-family="'Liberation Serif', 'Times New Roman', serif" font-size="7.6" font-weight="bold" fill="#000" text-anchor="start" stroke="#000" stroke-width="0.2">Fit peak 1</text>
<path d="M307.5,275.6 L323.8,275.6" fill="none" stroke="#f29a38" stroke-width="1.6" stroke-linejoin="round" stroke-dasharray="3.9 2.3" />
<text x="327.8" y="278.5" font-family="'Liberation Serif', 'Times New Roman', serif" font-size="7.6" font-weight="bold" fill="#000" text-anchor="start" stroke="#000" stroke-width="0.2">Fit peak 2</text>
<path d="M307.5,285.3 L323.8,285.3" fill="none" stroke="#0000ff" stroke-width="1.6" stroke-linejoin="round" stroke-dasharray="3.9 2.3" />
<text x="327.8" y="288.2" font-family="'Liberation Serif', 'Times New Roman', serif" font-size="7.6" font-weight="bold" fill="#000" text-anchor="start" stroke="#000" stroke-width="0.2">Fit peak</text>
<path d="M307.5,301.9 L323.8,301.9" fill="none" stroke="#ff0000" stroke-width="1.8" stroke-linejoin="round" />
<text x="327.8" y="304.8" font-family="'Liberation Serif', 'Times New Roman', serif" font-size="7.6" font-weight="bold" fill="#000" text-anchor="start" stroke="#000" stroke-width="0.2">Experiment</text>
<path d="M307.5,311.6 L323.8,311.6" fill="none" stroke="#22e022" stroke-width="1.6" stroke-linejoin="round" stroke-dasharray="3.9 2.3" />
<text x="327.8" y="314.5" font-family="'Liberation Serif', 'Times New Roman', serif" font-size="7.6" font-weight="bold" fill="#000" text-anchor="start" stroke="#000" stroke-width="0.2">Fit peak 1</text>
<path d="M307.5,321.3 L323.8,321.3" fill="none" stroke="#f29a38" stroke-width="1.6" stroke-linejoin="round" stroke-dasharray="3.9 2.3" />
<text x="327.8" y="324.2" font-family="'Liberation Serif', 'Times New Roman', serif" font-size="7.6" font-weight="bold" fill="#000" text-anchor="start" stroke="#000" stroke-width="0.2">Fit peak 2</text>
<path d="M307.5,331 L323.8,331" fill="none" stroke="#ff0000" stroke-width="1.6" stroke-linejoin="round" stroke-dasharray="3.9 2.3" />
<text x="327.8" y="333.9" font-family="'Liberation Serif', 'Times New Roman', serif" font-size="7.6" font-weight="bold" fill="#000" text-anchor="start" stroke="#000" stroke-width="0.2">Fit peak</text>
<path d="M307.5,347.9 L323.8,347.9" fill="none" stroke="#000" stroke-width="1.8" stroke-linejoin="round" />
<text x="327.8" y="350.8" font-family="'Liberation Serif', 'Times New Roman', serif" font-size="7.6" font-weight="bold" fill="#000" text-anchor="start" stroke="#000" stroke-width="0.2">Experiment</text>
<path d="M307.5,357.6 L323.8,357.6" fill="none" stroke="#22e022" stroke-width="1.6" stroke-linejoin="round" stroke-dasharray="3.9 2.3" />
<text x="327.8" y="360.5" font-family="'Liberation Serif', 'Times New Roman', serif" font-size="7.6" font-weight="bold" fill="#000" text-anchor="start" stroke="#000" stroke-width="0.2">Fit peak 1</text>
<path d="M307.5,367.3 L323.8,367.3" fill="none" stroke="#f29a38" stroke-width="1.6" stroke-linejoin="round" stroke-dasharray="3.9 2.3" />
<text x="327.8" y="370.2" font-family="'Liberation Serif', 'Times New Roman', serif" font-size="7.6" font-weight="bold" fill="#000" text-anchor="start" stroke="#000" stroke-width="0.2">Fit peak 2</text>
<path d="M307.5,377 L323.8,377" fill="none" stroke="#000" stroke-width="1.6" stroke-linejoin="round" stroke-dasharray="3.9 2.3" />
<text x="327.8" y="379.9" font-family="'Liberation Serif', 'Times New Roman', serif" font-size="7.6" font-weight="bold" fill="#000" text-anchor="start" stroke="#000" stroke-width="0.2">Fit peak</text>
<text x="509.1" y="263.6" font-family="'Liberation Serif', 'Times New Roman', serif" font-size="7.6" font-weight="bold" fill="#0000ff" text-anchor="middle"  stroke="#0000ff" stroke-width="0.2">Carbon&#8722;60 bar</text>
<text x="509.3" y="273.8" font-family="'Liberation Serif', 'Times New Roman', serif" font-size="7.6" font-weight="bold" fill="#0000ff" text-anchor="middle" stroke="#0000ff" stroke-width="0.2">I<tspan font-size="5" dy="1.6">G</tspan><tspan dy="-1.6">/I</tspan><tspan font-size="5" dy="1.6">D</tspan><tspan dy="-1.6">=0.96</tspan></text>
<text x="509.1" y="312.7" font-family="'Liberation Serif', 'Times New Roman', serif" font-size="7.6" font-weight="bold" fill="#ff0000" text-anchor="middle"  stroke="#ff0000" stroke-width="0.2">Carbon&#8722;30 bar</text>
<text x="509.3" y="323.4" font-family="'Liberation Serif', 'Times New Roman', serif" font-size="7.6" font-weight="bold" fill="#ff0000" text-anchor="middle" stroke="#ff0000" stroke-width="0.2">I<tspan font-size="5" dy="1.6">G</tspan><tspan dy="-1.6">/I</tspan><tspan font-size="5" dy="1.6">D</tspan><tspan dy="-1.6">=0.65</tspan></text>
<text x="509.1" y="360.1" font-family="'Liberation Serif', 'Times New Roman', serif" font-size="7.6" font-weight="bold" fill="#000" text-anchor="middle"  stroke="#000" stroke-width="0.2">Carbon&#8722;1 bar</text>
<text x="509.3" y="370.5" font-family="'Liberation Serif', 'Times New Roman', serif" font-size="7.6" font-weight="bold" fill="#000" text-anchor="middle" stroke="#000" stroke-width="0.2">I<tspan font-size="5" dy="1.6">G</tspan><tspan dy="-1.6">/I</tspan><tspan font-size="5" dy="1.6">D</tspan><tspan dy="-1.6">=0.20</tspan></text>
<text x="436.6" y="265.3" font-family="'Liberation Serif', 'Times New Roman', serif" font-size="8.5" font-weight="bold" fill="#000" text-anchor="middle"  stroke="#000" stroke-width="0.2">D</text>
<text x="472.6" y="244" font-family="'Liberation Serif', 'Times New Roman', serif" font-size="8.5" font-weight="bold" fill="#000" text-anchor="middle"  stroke="#000" stroke-width="0.2">G</text>
<text transform="translate(420.8,422.3) scale(1,1.04)" font-family="'Liberation Sans', Arial, sans-serif" font-size="13.6" font-weight="bold" fill="#000" text-anchor="middle">Raman Shift (cm<tspan font-size="8" dy="-5">-1</tspan><tspan dy="5">)</tspan></text>
<text transform="translate(296,305.2) rotate(-90) scale(1.0,0.95)" font-family="'Liberation Sans', Arial, sans-serif" font-size="13.3" font-weight="bold" fill="#000" text-anchor="middle"  stroke="#000" stroke-width="0.25">Intensity (a.u.)</text>
<text x="278.9" y="229" font-family="'Liberation Sans', Arial, sans-serif" font-size="19" font-weight="normal" fill="#000" text-anchor="start" >(c)</text>
</g>
<g id="pd">
<text x="278.8" y="433.9" font-family="'Liberation Sans', Arial, sans-serif" font-size="19" font-weight="normal" fill="#000" text-anchor="start" >(d)</text>
<line x1="302" y1="444.9" x2="535.3" y2="444.9" stroke="#000" stroke-width="1.4" />
<line x1="302" y1="461.5" x2="535.3" y2="461.5" stroke="#000" stroke-width="1.1" />
<line x1="302" y1="511.1" x2="535.3" y2="511.1" stroke="#000" stroke-width="1.8" />
<text x="307" y="456.8" font-family="'Liberation Sans', Arial, sans-serif" font-size="10" font-weight="bold" fill="#000" text-anchor="start"  stroke="#000" stroke-width="0.25">Elements</text>
<text x="407.6" y="456.8" font-family="'Liberation Sans', Arial, sans-serif" font-size="10" font-weight="bold" fill="#000" text-anchor="middle"  stroke="#000" stroke-width="0.25">C (wt.%)</text>
<text x="458.6" y="456.8" font-family="'Liberation Sans', Arial, sans-serif" font-size="10" font-weight="bold" fill="#000" text-anchor="middle"  stroke="#000" stroke-width="0.25">O (wt.%)</text>
<text x="509.6" y="456.8" font-family="'Liberation Sans', Arial, sans-serif" font-size="10" font-weight="bold" fill="#000" text-anchor="middle"  stroke="#000" stroke-width="0.25">Al (wt.%)</text>
<text x="306.8" y="473.6" font-family="'Liberation Sans', Arial, sans-serif" font-size="10" font-weight="normal" fill="#000" text-anchor="start" >Carbon&#8722;1 bar</text>
<text x="407.6" y="473.6" font-family="'Liberation Sans', Arial, sans-serif" font-size="10" font-weight="normal" fill="#000" text-anchor="middle" >89.63</text>
<text x="458.6" y="473.6" font-family="'Liberation Sans', Arial, sans-serif" font-size="10" font-weight="normal" fill="#000" text-anchor="middle" >9.74</text>
<text x="509.6" y="473.6" font-family="'Liberation Sans', Arial, sans-serif" font-size="10" font-weight="normal" fill="#000" text-anchor="middle" >0.63</text>
<text x="306.8" y="490.25" font-family="'Liberation Sans', Arial, sans-serif" font-size="10" font-weight="normal" fill="#000" text-anchor="start" >Carbon&#8722;30 bar</text>
<text x="407.6" y="490.25" font-family="'Liberation Sans', Arial, sans-serif" font-size="10" font-weight="normal" fill="#000" text-anchor="middle" >90.42</text>
<text x="458.6" y="490.25" font-family="'Liberation Sans', Arial, sans-serif" font-size="10" font-weight="normal" fill="#000" text-anchor="middle" >9.37</text>
<text x="509.6" y="490.25" font-family="'Liberation Sans', Arial, sans-serif" font-size="10" font-weight="normal" fill="#000" text-anchor="middle" >0.21</text>
<text x="306.8" y="506.9" font-family="'Liberation Sans', Arial, sans-serif" font-size="10" font-weight="normal" fill="#000" text-anchor="start" >Carbon&#8722;60 bar</text>
<text x="407.6" y="506.9" font-family="'Liberation Sans', Arial, sans-serif" font-size="10" font-weight="normal" fill="#000" text-anchor="middle" >95.23</text>
<text x="458.6" y="506.9" font-family="'Liberation Sans', Arial, sans-serif" font-size="10" font-weight="normal" fill="#000" text-anchor="middle" >3.85</text>
<text x="509.6" y="506.9" font-family="'Liberation Sans', Arial, sans-serif" font-size="10" font-weight="normal" fill="#000" text-anchor="middle" >0.92</text>
</g>
</svg>
</body></html>
